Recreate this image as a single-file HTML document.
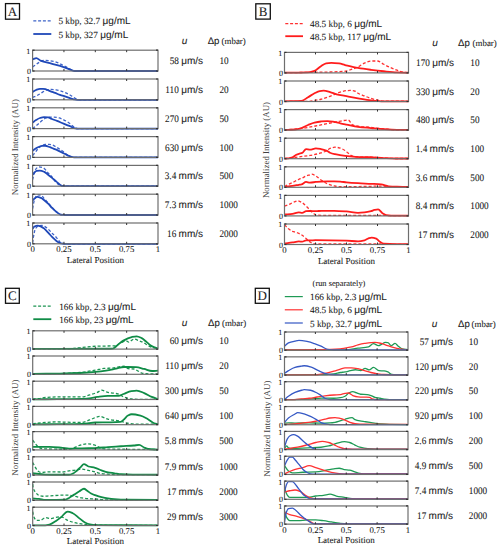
<!DOCTYPE html><html><head><meta charset="utf-8"><title>Figure</title><style>html,body{margin:0;padding:0;background:#fff;}svg{display:block;}</style></head><body>
<svg width="500" height="550" viewBox="0 0 500 550">
<rect width="500" height="550" fill="#fff"/>
<style>text{stroke:#1a1a1a;stroke-width:0.08px;text-rendering:geometricPrecision;}</style>
<path d="M32.60,67.05 C34.98,65.38 37.37,63.24 39.75,62.06 C41.13,61.37 42.51,60.39 43.89,60.39 C47.23,60.39 50.57,60.88 53.92,61.43 C57.68,62.06 61.44,64.70 65.20,66.42 C68.13,67.76 71.06,70.20 73.98,70.58 C75.65,70.81 77.33,71.00 79.00,71.00 C81.09,71.00 83.18,71.00 85.27,71.00 C109.51,71.00 133.76,71.00 158.00,71.00" fill="none" stroke="#3d63c8" stroke-width="1.3" stroke-linejoin="round" stroke-dasharray="3,2"/>
<path d="M32.60,59.35 C33.85,58.94 35.11,58.10 36.36,58.10 C37.74,58.10 39.12,60.05 40.50,60.60 C44.14,62.06 47.77,62.60 51.41,63.62 C55.46,64.75 59.52,65.72 63.57,67.05 C65.79,67.77 68.00,68.79 70.22,69.54 C71.77,70.07 73.31,71.00 74.86,71.00 C77.49,71.00 80.13,71.00 82.76,71.00 C107.84,71.00 132.92,71.00 158.00,71.00" fill="none" stroke="#1f48b8" stroke-width="1.8" stroke-linejoin="round"/>
<rect x="32.60" y="50.20" width="125.40" height="20.80" fill="none" stroke="#6e6e6e" stroke-width="1.2"/>
<line x1="63.95" y1="50.20" x2="63.95" y2="52.20" stroke="#333" stroke-width="1"/>
<line x1="63.95" y1="71.00" x2="63.95" y2="69.00" stroke="#333" stroke-width="1"/>
<line x1="95.30" y1="50.20" x2="95.30" y2="52.20" stroke="#333" stroke-width="1"/>
<line x1="95.30" y1="71.00" x2="95.30" y2="69.00" stroke="#333" stroke-width="1"/>
<line x1="126.65" y1="50.20" x2="126.65" y2="52.20" stroke="#333" stroke-width="1"/>
<line x1="126.65" y1="71.00" x2="126.65" y2="69.00" stroke="#333" stroke-width="1"/>
<line x1="32.60" y1="50.20" x2="34.60" y2="50.20" stroke="#333" stroke-width="1.2"/>
<line x1="32.60" y1="71.00" x2="34.60" y2="71.00" stroke="#333" stroke-width="1.2"/>
<line x1="158.00" y1="50.20" x2="156.00" y2="50.20" stroke="#333" stroke-width="1.2"/>
<line x1="158.00" y1="71.00" x2="156.00" y2="71.00" stroke="#333" stroke-width="1.2"/>
<text x="30.30" y="53.60" font-family="'Liberation Serif', serif" font-size="8" text-anchor="end" fill="#1a1a1a">1</text>
<text x="31.00" y="74.00" font-family="'Liberation Serif', serif" font-size="8" text-anchor="end" fill="#1a1a1a">0</text>
<text x="203.00" y="64.20" text-anchor="end" font-family="'Liberation Sans', sans-serif" font-size="10" fill="#1a1a1a">μm/s</text>
<text transform="translate(178.82,64.20) scale(1,1.1)" text-anchor="end" font-family="'Liberation Serif', serif" font-size="9.2" fill="#1a1a1a">58</text>
<text transform="translate(219.50,64.20) scale(1,1.1)" font-family="'Liberation Serif', serif" font-size="9.2" fill="#1a1a1a">10</text>
<path d="M32.60,97.51 C34.40,96.68 36.19,95.97 37.99,95.02 C39.66,94.13 41.34,92.84 43.01,91.90 C44.35,91.14 45.68,90.05 47.02,89.82 C48.36,89.58 49.70,89.40 51.03,89.40 C52.71,89.40 54.38,89.61 56.05,89.82 C57.35,89.97 58.64,90.30 59.94,90.65 C61.61,91.10 63.28,91.81 64.95,92.52 C66.63,93.23 68.30,94.09 69.97,95.02 C71.31,95.76 72.64,96.76 73.98,97.51 C75.32,98.27 76.66,99.40 77.99,99.59 C78.75,99.70 79.50,99.80 80.25,99.80 C81.92,99.80 83.60,99.80 85.27,99.80 C109.51,99.80 133.76,99.80 158.00,99.80" fill="none" stroke="#3d63c8" stroke-width="1.3" stroke-linejoin="round" stroke-dasharray="3,2"/>
<path d="M32.60,91.90 C33.73,91.27 34.86,90.48 35.99,90.02 C37.32,89.49 38.66,88.78 40.00,88.78 C41.00,88.78 42.01,88.78 43.01,88.78 C44.01,88.78 45.01,89.13 46.02,89.40 C47.36,89.76 48.69,90.54 50.03,91.06 C51.70,91.72 53.37,92.30 55.05,92.94 C56.68,93.55 58.31,94.23 59.94,94.81 C61.61,95.40 63.28,95.92 64.95,96.47 C66.63,97.03 68.30,97.60 69.97,98.14 C71.31,98.56 72.64,99.14 73.98,99.38 C75.03,99.58 76.07,99.80 77.12,99.80 C79.00,99.80 80.88,99.80 82.76,99.80 C107.84,99.80 132.92,99.80 158.00,99.80" fill="none" stroke="#1f48b8" stroke-width="1.8" stroke-linejoin="round"/>
<rect x="32.60" y="79.00" width="125.40" height="20.80" fill="none" stroke="#6e6e6e" stroke-width="1.2"/>
<line x1="63.95" y1="79.00" x2="63.95" y2="81.00" stroke="#333" stroke-width="1"/>
<line x1="63.95" y1="99.80" x2="63.95" y2="97.80" stroke="#333" stroke-width="1"/>
<line x1="95.30" y1="79.00" x2="95.30" y2="81.00" stroke="#333" stroke-width="1"/>
<line x1="95.30" y1="99.80" x2="95.30" y2="97.80" stroke="#333" stroke-width="1"/>
<line x1="126.65" y1="79.00" x2="126.65" y2="81.00" stroke="#333" stroke-width="1"/>
<line x1="126.65" y1="99.80" x2="126.65" y2="97.80" stroke="#333" stroke-width="1"/>
<line x1="32.60" y1="79.00" x2="34.60" y2="79.00" stroke="#333" stroke-width="1.2"/>
<line x1="32.60" y1="99.80" x2="34.60" y2="99.80" stroke="#333" stroke-width="1.2"/>
<line x1="158.00" y1="79.00" x2="156.00" y2="79.00" stroke="#333" stroke-width="1.2"/>
<line x1="158.00" y1="99.80" x2="156.00" y2="99.80" stroke="#333" stroke-width="1.2"/>
<text x="30.30" y="82.40" font-family="'Liberation Serif', serif" font-size="8" text-anchor="end" fill="#1a1a1a">1</text>
<text x="31.00" y="102.80" font-family="'Liberation Serif', serif" font-size="8" text-anchor="end" fill="#1a1a1a">0</text>
<text x="203.00" y="93.00" text-anchor="end" font-family="'Liberation Sans', sans-serif" font-size="10" fill="#1a1a1a">μm/s</text>
<text transform="translate(178.82,93.00) scale(1,1.1)" text-anchor="end" font-family="'Liberation Serif', serif" font-size="9.2" fill="#1a1a1a">110</text>
<text transform="translate(219.50,93.00) scale(1,1.1)" font-family="'Liberation Serif', serif" font-size="9.2" fill="#1a1a1a">20</text>
<path d="M32.60,128.60 C34.06,127.42 35.53,126.30 36.99,125.06 C38.33,123.94 39.66,122.63 41.00,121.53 C42.34,120.42 43.68,119.00 45.01,118.41 C46.35,117.81 47.69,117.16 49.03,117.16 C50.70,117.16 52.37,117.16 54.04,117.16 C55.72,117.16 57.39,117.60 59.06,117.99 C60.73,118.39 62.40,119.26 64.08,120.07 C65.75,120.88 67.42,121.82 69.09,122.98 C70.09,123.68 71.10,124.68 72.10,125.48 C73.10,126.28 74.11,127.32 75.11,127.77 C75.99,128.16 76.87,128.60 77.74,128.60 C79.42,128.60 81.09,128.60 82.76,128.60 C107.84,128.60 132.92,128.60 158.00,128.60" fill="none" stroke="#3d63c8" stroke-width="1.3" stroke-linejoin="round" stroke-dasharray="3,2"/>
<path d="M32.60,122.57 C33.73,121.74 34.86,120.76 35.99,120.07 C37.32,119.25 38.66,118.39 40.00,117.99 C41.34,117.60 42.67,117.16 44.01,117.16 C45.35,117.16 46.69,117.24 48.02,117.37 C49.36,117.49 50.70,118.51 52.04,119.03 C53.71,119.69 55.38,120.25 57.05,120.90 C58.73,121.56 60.40,122.29 62.07,122.98 C63.74,123.68 65.41,124.37 67.09,125.06 C68.42,125.62 69.76,126.12 71.10,126.73 C72.06,127.17 73.02,127.95 73.98,128.18 C74.82,128.39 75.65,128.60 76.49,128.60 C78.58,128.60 80.67,128.60 82.76,128.60 C107.84,128.60 132.92,128.60 158.00,128.60" fill="none" stroke="#1f48b8" stroke-width="1.8" stroke-linejoin="round"/>
<rect x="32.60" y="107.80" width="125.40" height="20.80" fill="none" stroke="#6e6e6e" stroke-width="1.2"/>
<line x1="63.95" y1="107.80" x2="63.95" y2="109.80" stroke="#333" stroke-width="1"/>
<line x1="63.95" y1="128.60" x2="63.95" y2="126.60" stroke="#333" stroke-width="1"/>
<line x1="95.30" y1="107.80" x2="95.30" y2="109.80" stroke="#333" stroke-width="1"/>
<line x1="95.30" y1="128.60" x2="95.30" y2="126.60" stroke="#333" stroke-width="1"/>
<line x1="126.65" y1="107.80" x2="126.65" y2="109.80" stroke="#333" stroke-width="1"/>
<line x1="126.65" y1="128.60" x2="126.65" y2="126.60" stroke="#333" stroke-width="1"/>
<line x1="32.60" y1="107.80" x2="34.60" y2="107.80" stroke="#333" stroke-width="1.2"/>
<line x1="32.60" y1="128.60" x2="34.60" y2="128.60" stroke="#333" stroke-width="1.2"/>
<line x1="158.00" y1="107.80" x2="156.00" y2="107.80" stroke="#333" stroke-width="1.2"/>
<line x1="158.00" y1="128.60" x2="156.00" y2="128.60" stroke="#333" stroke-width="1.2"/>
<text x="30.30" y="111.20" font-family="'Liberation Serif', serif" font-size="8" text-anchor="end" fill="#1a1a1a">1</text>
<text x="31.00" y="131.60" font-family="'Liberation Serif', serif" font-size="8" text-anchor="end" fill="#1a1a1a">0</text>
<text x="203.00" y="121.80" text-anchor="end" font-family="'Liberation Sans', sans-serif" font-size="10" fill="#1a1a1a">μm/s</text>
<text transform="translate(178.82,121.80) scale(1,1.1)" text-anchor="end" font-family="'Liberation Serif', serif" font-size="9.2" fill="#1a1a1a">270</text>
<text transform="translate(219.50,121.80) scale(1,1.1)" font-family="'Liberation Serif', serif" font-size="9.2" fill="#1a1a1a">50</text>
<path d="M32.60,155.53 C33.35,154.63 34.10,153.75 34.86,152.82 C35.90,151.54 36.95,149.94 37.99,148.87 C39.12,147.72 40.25,146.62 41.38,145.96 C42.63,145.22 43.89,144.30 45.14,144.30 C46.39,144.30 47.65,144.30 48.90,144.30 C50.16,144.30 51.41,144.73 52.66,145.13 C53.92,145.52 55.17,146.48 56.43,147.21 C57.68,147.93 58.93,148.70 60.19,149.50 C61.44,150.29 62.70,151.06 63.95,151.99 C65.41,153.08 66.88,154.87 68.34,155.74 C69.38,156.35 70.43,157.05 71.47,157.19 C72.31,157.31 73.15,157.40 73.98,157.40 C76.91,157.40 79.83,157.40 82.76,157.40 C107.84,157.40 132.92,157.40 158.00,157.40" fill="none" stroke="#3d63c8" stroke-width="1.3" stroke-linejoin="round" stroke-dasharray="3,2"/>
<path d="M32.60,150.74 C33.35,150.19 34.10,149.58 34.86,149.08 C35.90,148.39 36.95,147.64 37.99,147.21 C39.33,146.65 40.67,146.10 42.01,145.96 C43.05,145.85 44.09,145.75 45.14,145.75 C46.77,145.75 48.40,146.64 50.03,147.21 C51.37,147.67 52.71,148.33 54.04,148.87 C55.26,149.37 56.47,149.80 57.68,150.33 C59.10,150.95 60.52,151.69 61.94,152.41 C63.28,153.08 64.62,153.82 65.96,154.49 C66.96,154.99 67.96,155.55 68.97,155.94 C70.22,156.44 71.47,157.03 72.73,157.19 C73.56,157.30 74.40,157.40 75.24,157.40 C77.74,157.40 80.25,157.40 82.76,157.40 C107.84,157.40 132.92,157.40 158.00,157.40" fill="none" stroke="#1f48b8" stroke-width="1.8" stroke-linejoin="round"/>
<rect x="32.60" y="136.60" width="125.40" height="20.80" fill="none" stroke="#6e6e6e" stroke-width="1.2"/>
<line x1="63.95" y1="136.60" x2="63.95" y2="138.60" stroke="#333" stroke-width="1"/>
<line x1="63.95" y1="157.40" x2="63.95" y2="155.40" stroke="#333" stroke-width="1"/>
<line x1="95.30" y1="136.60" x2="95.30" y2="138.60" stroke="#333" stroke-width="1"/>
<line x1="95.30" y1="157.40" x2="95.30" y2="155.40" stroke="#333" stroke-width="1"/>
<line x1="126.65" y1="136.60" x2="126.65" y2="138.60" stroke="#333" stroke-width="1"/>
<line x1="126.65" y1="157.40" x2="126.65" y2="155.40" stroke="#333" stroke-width="1"/>
<line x1="32.60" y1="136.60" x2="34.60" y2="136.60" stroke="#333" stroke-width="1.2"/>
<line x1="32.60" y1="157.40" x2="34.60" y2="157.40" stroke="#333" stroke-width="1.2"/>
<line x1="158.00" y1="136.60" x2="156.00" y2="136.60" stroke="#333" stroke-width="1.2"/>
<line x1="158.00" y1="157.40" x2="156.00" y2="157.40" stroke="#333" stroke-width="1.2"/>
<text x="30.30" y="140.00" font-family="'Liberation Serif', serif" font-size="8" text-anchor="end" fill="#1a1a1a">1</text>
<text x="31.00" y="160.40" font-family="'Liberation Serif', serif" font-size="8" text-anchor="end" fill="#1a1a1a">0</text>
<text x="203.00" y="150.60" text-anchor="end" font-family="'Liberation Sans', sans-serif" font-size="10" fill="#1a1a1a">μm/s</text>
<text transform="translate(178.82,150.60) scale(1,1.1)" text-anchor="end" font-family="'Liberation Serif', serif" font-size="9.2" fill="#1a1a1a">630</text>
<text transform="translate(219.50,150.60) scale(1,1.1)" font-family="'Liberation Serif', serif" font-size="9.2" fill="#1a1a1a">100</text>
<path d="M32.60,179.54 C33.56,176.22 34.52,170.83 35.48,169.56 C36.61,168.07 37.74,166.86 38.87,166.86 C40.33,166.86 41.80,167.34 43.26,167.90 C45.06,168.58 46.85,171.70 48.65,173.51 C49.78,174.65 50.91,175.56 52.04,176.84 C53.50,178.50 54.96,181.46 56.43,182.87 C57.14,183.56 57.85,184.15 58.56,184.54 C59.94,185.29 61.32,186.20 62.70,186.20 C64.79,186.20 66.88,186.20 68.97,186.20 C98.64,186.20 128.32,186.20 158.00,186.20" fill="none" stroke="#3d63c8" stroke-width="1.3" stroke-linejoin="round" stroke-dasharray="3,2"/>
<path d="M32.60,174.55 C33.94,173.30 35.28,170.96 36.61,170.81 C37.70,170.68 38.79,170.60 39.87,170.60 C41.34,170.60 42.80,171.24 44.26,171.85 C45.73,172.45 47.19,174.04 48.65,175.18 C49.78,176.05 50.91,176.95 52.04,177.88 C53.50,179.09 54.96,180.45 56.43,181.62 C58.27,183.10 60.10,185.49 61.94,185.78 C63.45,186.02 64.95,186.20 66.46,186.20 C68.55,186.20 70.64,186.20 72.73,186.20 C101.15,186.20 129.58,186.20 158.00,186.20" fill="none" stroke="#1f48b8" stroke-width="1.8" stroke-linejoin="round"/>
<rect x="32.60" y="165.40" width="125.40" height="20.80" fill="none" stroke="#6e6e6e" stroke-width="1.2"/>
<line x1="63.95" y1="165.40" x2="63.95" y2="167.40" stroke="#333" stroke-width="1"/>
<line x1="63.95" y1="186.20" x2="63.95" y2="184.20" stroke="#333" stroke-width="1"/>
<line x1="95.30" y1="165.40" x2="95.30" y2="167.40" stroke="#333" stroke-width="1"/>
<line x1="95.30" y1="186.20" x2="95.30" y2="184.20" stroke="#333" stroke-width="1"/>
<line x1="126.65" y1="165.40" x2="126.65" y2="167.40" stroke="#333" stroke-width="1"/>
<line x1="126.65" y1="186.20" x2="126.65" y2="184.20" stroke="#333" stroke-width="1"/>
<line x1="32.60" y1="165.40" x2="34.60" y2="165.40" stroke="#333" stroke-width="1.2"/>
<line x1="32.60" y1="186.20" x2="34.60" y2="186.20" stroke="#333" stroke-width="1.2"/>
<line x1="158.00" y1="165.40" x2="156.00" y2="165.40" stroke="#333" stroke-width="1.2"/>
<line x1="158.00" y1="186.20" x2="156.00" y2="186.20" stroke="#333" stroke-width="1.2"/>
<text x="30.30" y="168.80" font-family="'Liberation Serif', serif" font-size="8" text-anchor="end" fill="#1a1a1a">1</text>
<text x="31.00" y="189.20" font-family="'Liberation Serif', serif" font-size="8" text-anchor="end" fill="#1a1a1a">0</text>
<text x="203.00" y="179.40" text-anchor="end" font-family="'Liberation Sans', sans-serif" font-size="10" fill="#1a1a1a">mm/s</text>
<text transform="translate(176.25,179.40) scale(1,1.1)" text-anchor="end" font-family="'Liberation Serif', serif" font-size="9.2" fill="#1a1a1a">3.4</text>
<text transform="translate(219.50,179.40) scale(1,1.1)" font-family="'Liberation Serif', serif" font-size="9.2" fill="#1a1a1a">500</text>
<path d="M32.60,208.55 C33.23,205.64 33.85,201.37 34.48,199.82 C35.53,197.23 36.57,194.82 37.62,194.82 C38.74,194.82 39.87,194.99 41.00,195.24 C42.09,195.48 43.18,197.40 44.26,198.57 C45.73,200.14 47.19,201.92 48.65,203.56 C49.78,204.82 50.91,206.09 52.04,207.30 C53.50,208.88 54.96,210.69 56.43,211.88 C57.89,213.07 59.35,214.66 60.82,214.79 C62.28,214.92 63.74,215.00 65.20,215.00 C67.29,215.00 69.38,215.00 71.47,215.00 C100.32,215.00 129.16,215.00 158.00,215.00" fill="none" stroke="#3d63c8" stroke-width="1.3" stroke-linejoin="round" stroke-dasharray="3,2"/>
<path d="M32.60,200.23 C34.15,199.12 35.69,196.90 37.24,196.90 C38.49,196.90 39.75,197.44 41.00,197.94 C42.09,198.38 43.18,199.38 44.26,200.23 C45.73,201.38 47.19,202.73 48.65,204.18 C49.78,205.31 50.91,206.80 52.04,207.93 C53.50,209.39 54.96,210.81 56.43,211.88 C57.89,212.95 59.35,214.34 60.82,214.58 C62.28,214.82 63.74,215.00 65.20,215.00 C67.29,215.00 69.38,215.00 71.47,215.00 C100.32,215.00 129.16,215.00 158.00,215.00" fill="none" stroke="#1f48b8" stroke-width="1.8" stroke-linejoin="round"/>
<rect x="32.60" y="194.20" width="125.40" height="20.80" fill="none" stroke="#6e6e6e" stroke-width="1.2"/>
<line x1="63.95" y1="194.20" x2="63.95" y2="196.20" stroke="#333" stroke-width="1"/>
<line x1="63.95" y1="215.00" x2="63.95" y2="213.00" stroke="#333" stroke-width="1"/>
<line x1="95.30" y1="194.20" x2="95.30" y2="196.20" stroke="#333" stroke-width="1"/>
<line x1="95.30" y1="215.00" x2="95.30" y2="213.00" stroke="#333" stroke-width="1"/>
<line x1="126.65" y1="194.20" x2="126.65" y2="196.20" stroke="#333" stroke-width="1"/>
<line x1="126.65" y1="215.00" x2="126.65" y2="213.00" stroke="#333" stroke-width="1"/>
<line x1="32.60" y1="194.20" x2="34.60" y2="194.20" stroke="#333" stroke-width="1.2"/>
<line x1="32.60" y1="215.00" x2="34.60" y2="215.00" stroke="#333" stroke-width="1.2"/>
<line x1="158.00" y1="194.20" x2="156.00" y2="194.20" stroke="#333" stroke-width="1.2"/>
<line x1="158.00" y1="215.00" x2="156.00" y2="215.00" stroke="#333" stroke-width="1.2"/>
<text x="30.30" y="197.60" font-family="'Liberation Serif', serif" font-size="8" text-anchor="end" fill="#1a1a1a">1</text>
<text x="31.00" y="218.00" font-family="'Liberation Serif', serif" font-size="8" text-anchor="end" fill="#1a1a1a">0</text>
<text x="203.00" y="208.20" text-anchor="end" font-family="'Liberation Sans', sans-serif" font-size="10" fill="#1a1a1a">mm/s</text>
<text transform="translate(176.25,208.20) scale(1,1.1)" text-anchor="end" font-family="'Liberation Serif', serif" font-size="9.2" fill="#1a1a1a">7.3</text>
<text transform="translate(219.50,208.20) scale(1,1.1)" font-family="'Liberation Serif', serif" font-size="9.2" fill="#1a1a1a">1000</text>
<path d="M32.60,242.97 C32.85,241.17 33.10,238.95 33.35,237.56 C34.06,233.63 34.77,229.62 35.48,228.62 C36.61,227.02 37.74,226.16 38.87,225.91 C39.96,225.67 41.04,225.50 42.13,225.50 C43.55,225.50 44.97,226.66 46.39,227.58 C48.28,228.79 50.16,231.32 52.04,233.19 C53.50,234.65 54.96,235.91 56.43,237.56 C57.14,238.36 57.85,239.39 58.56,240.26 C59.31,241.19 60.06,242.57 60.82,242.97 C61.65,243.41 62.49,243.80 63.32,243.80 C65.62,243.80 67.92,243.80 70.22,243.80 C99.48,243.80 128.74,243.80 158.00,243.80" fill="none" stroke="#3d63c8" stroke-width="1.3" stroke-linejoin="round" stroke-dasharray="3,2"/>
<path d="M32.60,228.62 C33.23,227.92 33.85,226.85 34.48,226.54 C35.53,226.02 36.57,225.60 37.62,225.60 C38.74,225.60 39.87,226.10 41.00,226.54 C42.09,226.96 43.18,227.77 44.26,228.62 C45.73,229.76 47.19,231.62 48.65,233.19 C49.78,234.40 50.91,235.81 52.04,236.94 C53.50,238.39 54.96,239.87 56.43,240.89 C57.89,241.91 59.35,243.15 60.82,243.38 C62.28,243.62 63.74,243.80 65.20,243.80 C67.29,243.80 69.38,243.80 71.47,243.80 C100.32,243.80 129.16,243.80 158.00,243.80" fill="none" stroke="#1f48b8" stroke-width="1.8" stroke-linejoin="round"/>
<rect x="32.60" y="223.00" width="125.40" height="20.80" fill="none" stroke="#6e6e6e" stroke-width="1.2"/>
<line x1="63.95" y1="223.00" x2="63.95" y2="225.00" stroke="#333" stroke-width="1"/>
<line x1="63.95" y1="243.80" x2="63.95" y2="241.80" stroke="#333" stroke-width="1"/>
<line x1="95.30" y1="223.00" x2="95.30" y2="225.00" stroke="#333" stroke-width="1"/>
<line x1="95.30" y1="243.80" x2="95.30" y2="241.80" stroke="#333" stroke-width="1"/>
<line x1="126.65" y1="223.00" x2="126.65" y2="225.00" stroke="#333" stroke-width="1"/>
<line x1="126.65" y1="243.80" x2="126.65" y2="241.80" stroke="#333" stroke-width="1"/>
<line x1="32.60" y1="223.00" x2="34.60" y2="223.00" stroke="#333" stroke-width="1.2"/>
<line x1="32.60" y1="243.80" x2="34.60" y2="243.80" stroke="#333" stroke-width="1.2"/>
<line x1="158.00" y1="223.00" x2="156.00" y2="223.00" stroke="#333" stroke-width="1.2"/>
<line x1="158.00" y1="243.80" x2="156.00" y2="243.80" stroke="#333" stroke-width="1.2"/>
<text x="30.30" y="226.40" font-family="'Liberation Serif', serif" font-size="8" text-anchor="end" fill="#1a1a1a">1</text>
<text x="31.00" y="246.80" font-family="'Liberation Serif', serif" font-size="8" text-anchor="end" fill="#1a1a1a">0</text>
<text x="203.00" y="237.00" text-anchor="end" font-family="'Liberation Sans', sans-serif" font-size="10" fill="#1a1a1a">mm/s</text>
<text transform="translate(176.25,237.00) scale(1,1.1)" text-anchor="end" font-family="'Liberation Serif', serif" font-size="9.2" fill="#1a1a1a">16</text>
<text transform="translate(219.50,237.00) scale(1,1.1)" font-family="'Liberation Serif', serif" font-size="9.2" fill="#1a1a1a">2000</text>
<text x="32.60" y="252.20" font-family="'Liberation Serif', serif" font-size="8.8" text-anchor="middle" fill="#1a1a1a">0</text>
<text x="63.95" y="252.20" font-family="'Liberation Serif', serif" font-size="8.8" text-anchor="middle" fill="#1a1a1a">0.25</text>
<text x="95.30" y="252.20" font-family="'Liberation Serif', serif" font-size="8.8" text-anchor="middle" fill="#1a1a1a">0.5</text>
<text x="126.65" y="252.20" font-family="'Liberation Serif', serif" font-size="8.8" text-anchor="middle" fill="#1a1a1a">0.75</text>
<text x="158.00" y="252.20" font-family="'Liberation Serif', serif" font-size="8.8" text-anchor="middle" fill="#1a1a1a">1</text>
<text x="95.30" y="263.20" font-family="'Liberation Serif', serif" font-size="9" text-anchor="middle" fill="#1a1a1a">Lateral Position</text>
<text transform="translate(18.30,147.20) rotate(-90)" x="0" y="0" font-family="'Liberation Serif', serif" font-size="8.9" text-anchor="middle" fill="#404040" style="stroke:none">Normalized Intensity (AU)</text>
<text x="184.50" y="44.20" font-family="'Liberation Sans', sans-serif" font-style="italic" font-size="10" text-anchor="middle" fill="#1a1a1a">u</text>
<text x="207.70" y="44.20" font-family="'Liberation Sans', sans-serif" font-size="9.6" fill="#1a1a1a">Δp</text>
<text x="221.60" y="44.20" font-family="'Liberation Serif', serif" font-size="8.9" fill="#1a1a1a">(mbar)</text>
<rect x="5.50" y="3.60" width="14.00" height="15.60" fill="none" stroke="#111" stroke-width="1.3"/>
<text x="12.50" y="16.10" font-family="'Liberation Serif', serif" font-size="13" text-anchor="middle" fill="#222">A</text>
<line x1="33.3" y1="20.8" x2="51" y2="20.8" stroke="#3d63c8" stroke-width="1.3" stroke-dasharray="3,1.8"/>
<line x1="33.3" y1="34" x2="51.3" y2="34" stroke="#1f48b8" stroke-width="1.8"/>
<text x="58.40" y="24.30" fill="#1a1a1a"><tspan font-family="'Liberation Serif', serif" font-size="9.3">5 kbp, 32.7 </tspan><tspan font-family="'Liberation Sans', sans-serif" font-size="10">μg/mL</tspan></text>
<text x="58.40" y="37.50" fill="#1a1a1a"><tspan font-family="'Liberation Serif', serif" font-size="9.3">5 kbp, 327 </tspan><tspan font-family="'Liberation Sans', sans-serif" font-size="10">μg/mL</tspan></text>
<path d="M284.50,72.70 C294.42,72.56 304.34,72.48 314.26,72.29 C324.51,72.09 334.76,72.00 345.01,71.26 C347.16,71.10 349.31,70.11 351.46,69.42 C353.65,68.70 355.84,67.97 358.03,66.96 C360.18,65.96 362.33,63.95 364.48,63.06 C366.67,62.16 368.86,61.01 371.05,61.01 C373.20,61.01 375.35,61.01 377.50,61.01 C379.57,61.01 381.63,63.25 383.70,64.29 C385.97,65.44 388.25,66.56 390.52,67.57 C392.67,68.52 394.82,69.47 396.97,70.23 C399.16,71.01 401.35,71.90 403.54,72.29 C405.19,72.57 406.85,72.70 408.50,72.90" fill="none" stroke="#ff3030" stroke-width="1.3" stroke-linejoin="round" stroke-dasharray="3,2"/>
<path d="M284.50,72.70 C293.01,72.49 301.53,72.55 310.04,72.08 C311.53,72.00 313.02,71.43 314.51,70.85 C316.66,70.01 318.81,67.48 320.96,66.14 C322.69,65.05 324.43,63.50 326.16,63.27 C327.90,63.03 329.64,62.86 331.37,62.86 C333.93,62.86 336.50,63.15 339.06,63.47 C341.04,63.72 343.03,64.52 345.01,65.01 C349.35,66.07 353.69,67.22 358.03,67.98 C362.37,68.74 366.71,69.28 371.05,69.83 C375.27,70.36 379.48,70.85 383.70,71.26 C388.12,71.69 392.55,72.21 396.97,72.39 C400.81,72.54 404.66,72.59 408.50,72.70" fill="none" stroke="#ff1c1c" stroke-width="1.8" stroke-linejoin="round"/>
<rect x="284.50" y="52.40" width="124.00" height="20.50" fill="none" stroke="#6e6e6e" stroke-width="1.2"/>
<line x1="315.50" y1="52.40" x2="315.50" y2="54.40" stroke="#333" stroke-width="1"/>
<line x1="315.50" y1="72.90" x2="315.50" y2="70.90" stroke="#333" stroke-width="1"/>
<line x1="346.50" y1="52.40" x2="346.50" y2="54.40" stroke="#333" stroke-width="1"/>
<line x1="346.50" y1="72.90" x2="346.50" y2="70.90" stroke="#333" stroke-width="1"/>
<line x1="377.50" y1="52.40" x2="377.50" y2="54.40" stroke="#333" stroke-width="1"/>
<line x1="377.50" y1="72.90" x2="377.50" y2="70.90" stroke="#333" stroke-width="1"/>
<line x1="284.50" y1="52.40" x2="286.50" y2="52.40" stroke="#333" stroke-width="1.2"/>
<line x1="284.50" y1="72.90" x2="286.50" y2="72.90" stroke="#333" stroke-width="1.2"/>
<line x1="408.50" y1="52.40" x2="406.50" y2="52.40" stroke="#333" stroke-width="1.2"/>
<line x1="408.50" y1="72.90" x2="406.50" y2="72.90" stroke="#333" stroke-width="1.2"/>
<text x="282.20" y="55.80" font-family="'Liberation Serif', serif" font-size="8" text-anchor="end" fill="#1a1a1a">1</text>
<text x="282.90" y="75.90" font-family="'Liberation Serif', serif" font-size="8" text-anchor="end" fill="#1a1a1a">0</text>
<text x="454.00" y="66.25" text-anchor="end" font-family="'Liberation Sans', sans-serif" font-size="10" fill="#1a1a1a">μm/s</text>
<text transform="translate(429.82,66.25) scale(1,1.1)" text-anchor="end" font-family="'Liberation Serif', serif" font-size="9.2" fill="#1a1a1a">170</text>
<text transform="translate(470.30,66.25) scale(1,1.1)" font-family="'Liberation Serif', serif" font-size="9.2" fill="#1a1a1a">10</text>
<path d="M284.50,101.30 C292.77,101.30 301.03,101.30 309.30,101.30 C311.04,101.30 312.77,100.77 314.51,100.47 C316.66,100.11 318.81,99.75 320.96,99.25 C323.15,98.73 325.34,97.97 327.53,97.19 C329.72,96.42 331.91,95.41 334.10,94.53 C336.17,93.70 338.23,92.67 340.30,92.07 C342.37,91.47 344.43,90.81 346.50,90.64 C347.74,90.53 348.98,90.43 350.22,90.43 C351.87,90.43 353.53,90.78 355.18,91.25 C356.13,91.52 357.08,92.78 358.03,93.30 C360.18,94.47 362.33,95.12 364.48,95.97 C366.67,96.83 368.86,97.76 371.05,98.42 C373.20,99.08 375.35,99.63 377.50,100.06 C379.57,100.48 381.63,101.05 383.70,101.09 C391.97,101.25 400.23,101.23 408.50,101.30" fill="none" stroke="#ff3030" stroke-width="1.3" stroke-linejoin="round" stroke-dasharray="3,2"/>
<path d="M284.50,101.30 C290.16,101.16 295.83,101.19 301.49,100.89 C303.68,100.77 305.87,98.47 308.06,97.19 C310.21,95.94 312.36,94.38 314.51,93.30 C316.24,92.43 317.98,91.33 319.72,91.05 C321.00,90.83 322.28,90.64 323.56,90.64 C325.75,90.64 327.94,91.48 330.13,92.07 C332.28,92.65 334.43,93.78 336.58,94.33 C339.39,95.04 342.20,95.43 345.01,95.97 C349.35,96.80 353.69,97.68 358.03,98.42 C362.37,99.17 366.71,100.08 371.05,100.47 C375.27,100.86 379.48,101.30 383.70,101.30 C391.97,101.30 400.23,101.30 408.50,101.30" fill="none" stroke="#ff1c1c" stroke-width="1.8" stroke-linejoin="round"/>
<rect x="284.50" y="81.00" width="124.00" height="20.50" fill="none" stroke="#6e6e6e" stroke-width="1.2"/>
<line x1="315.50" y1="81.00" x2="315.50" y2="83.00" stroke="#333" stroke-width="1"/>
<line x1="315.50" y1="101.50" x2="315.50" y2="99.50" stroke="#333" stroke-width="1"/>
<line x1="346.50" y1="81.00" x2="346.50" y2="83.00" stroke="#333" stroke-width="1"/>
<line x1="346.50" y1="101.50" x2="346.50" y2="99.50" stroke="#333" stroke-width="1"/>
<line x1="377.50" y1="81.00" x2="377.50" y2="83.00" stroke="#333" stroke-width="1"/>
<line x1="377.50" y1="101.50" x2="377.50" y2="99.50" stroke="#333" stroke-width="1"/>
<line x1="284.50" y1="81.00" x2="286.50" y2="81.00" stroke="#333" stroke-width="1.2"/>
<line x1="284.50" y1="101.50" x2="286.50" y2="101.50" stroke="#333" stroke-width="1.2"/>
<line x1="408.50" y1="81.00" x2="406.50" y2="81.00" stroke="#333" stroke-width="1.2"/>
<line x1="408.50" y1="101.50" x2="406.50" y2="101.50" stroke="#333" stroke-width="1.2"/>
<text x="282.20" y="84.40" font-family="'Liberation Serif', serif" font-size="8" text-anchor="end" fill="#1a1a1a">1</text>
<text x="282.90" y="104.50" font-family="'Liberation Serif', serif" font-size="8" text-anchor="end" fill="#1a1a1a">0</text>
<text x="454.00" y="94.85" text-anchor="end" font-family="'Liberation Sans', sans-serif" font-size="10" fill="#1a1a1a">μm/s</text>
<text transform="translate(429.82,94.85) scale(1,1.1)" text-anchor="end" font-family="'Liberation Serif', serif" font-size="9.2" fill="#1a1a1a">330</text>
<text transform="translate(470.30,94.85) scale(1,1.1)" font-family="'Liberation Serif', serif" font-size="9.2" fill="#1a1a1a">20</text>
<path d="M284.50,129.89 C290.16,129.42 295.83,129.11 301.49,128.46 C303.68,128.21 305.87,127.81 308.06,127.43 C310.21,127.07 312.36,126.61 314.51,126.20 C316.66,125.80 318.81,125.41 320.96,124.97 C323.15,124.53 325.34,123.98 327.53,123.54 C329.72,123.10 331.91,122.73 334.10,122.31 C336.17,121.91 338.23,121.41 340.30,121.08 C342.95,120.66 345.59,120.05 348.24,120.05 C349.72,120.05 351.21,124.40 352.70,124.97 C354.48,125.67 356.25,125.95 358.03,126.20 C362.37,126.82 366.71,126.99 371.05,127.43 C375.27,127.87 379.48,128.47 383.70,128.87 C387.83,129.27 391.97,129.89 396.10,129.89 C400.23,129.89 404.37,129.89 408.50,129.89" fill="none" stroke="#ff3030" stroke-width="1.3" stroke-linejoin="round" stroke-dasharray="3,2"/>
<path d="M284.50,129.89 C288.01,129.76 291.53,129.73 295.04,129.48 C297.19,129.33 299.34,128.70 301.49,128.05 C303.68,127.39 305.87,125.90 308.06,124.97 C310.21,124.07 312.36,123.00 314.51,122.52 C316.66,122.03 318.81,121.68 320.96,121.49 C323.15,121.29 325.34,121.08 327.53,121.08 C329.72,121.08 331.91,121.54 334.10,121.90 C336.17,122.24 338.23,122.89 340.30,123.33 C342.37,123.78 344.43,124.16 346.50,124.56 C350.34,125.32 354.19,126.33 358.03,126.82 C362.37,127.38 366.71,127.65 371.05,128.05 C375.27,128.44 379.48,128.92 383.70,129.18 C388.12,129.45 392.55,129.73 396.97,129.79 C400.81,129.85 404.66,129.86 408.50,129.89" fill="none" stroke="#ff1c1c" stroke-width="1.8" stroke-linejoin="round"/>
<rect x="284.50" y="109.60" width="124.00" height="20.50" fill="none" stroke="#6e6e6e" stroke-width="1.2"/>
<line x1="315.50" y1="109.60" x2="315.50" y2="111.60" stroke="#333" stroke-width="1"/>
<line x1="315.50" y1="130.10" x2="315.50" y2="128.10" stroke="#333" stroke-width="1"/>
<line x1="346.50" y1="109.60" x2="346.50" y2="111.60" stroke="#333" stroke-width="1"/>
<line x1="346.50" y1="130.10" x2="346.50" y2="128.10" stroke="#333" stroke-width="1"/>
<line x1="377.50" y1="109.60" x2="377.50" y2="111.60" stroke="#333" stroke-width="1"/>
<line x1="377.50" y1="130.10" x2="377.50" y2="128.10" stroke="#333" stroke-width="1"/>
<line x1="284.50" y1="109.60" x2="286.50" y2="109.60" stroke="#333" stroke-width="1.2"/>
<line x1="284.50" y1="130.10" x2="286.50" y2="130.10" stroke="#333" stroke-width="1.2"/>
<line x1="408.50" y1="109.60" x2="406.50" y2="109.60" stroke="#333" stroke-width="1.2"/>
<line x1="408.50" y1="130.10" x2="406.50" y2="130.10" stroke="#333" stroke-width="1.2"/>
<text x="282.20" y="113.00" font-family="'Liberation Serif', serif" font-size="8" text-anchor="end" fill="#1a1a1a">1</text>
<text x="282.90" y="133.10" font-family="'Liberation Serif', serif" font-size="8" text-anchor="end" fill="#1a1a1a">0</text>
<text x="454.00" y="123.45" text-anchor="end" font-family="'Liberation Sans', sans-serif" font-size="10" fill="#1a1a1a">μm/s</text>
<text transform="translate(429.82,123.45) scale(1,1.1)" text-anchor="end" font-family="'Liberation Serif', serif" font-size="9.2" fill="#1a1a1a">480</text>
<text transform="translate(470.30,123.45) scale(1,1.1)" font-family="'Liberation Serif', serif" font-size="9.2" fill="#1a1a1a">50</text>
<path d="M284.50,158.70 C287.15,158.50 289.79,158.38 292.44,158.09 C294.59,157.84 296.73,157.19 298.88,156.86 C302.56,156.28 306.24,156.02 309.92,155.42 C313.60,154.82 317.28,154.05 320.96,152.96 C322.98,152.36 325.01,151.56 327.03,150.50 C328.02,149.98 329.02,148.83 330.01,148.45 C331.66,147.82 333.31,147.22 334.97,147.22 C336.66,147.22 338.36,147.63 340.05,148.04 C341.71,148.44 343.36,149.45 345.01,150.50 C346.00,151.13 347.00,152.14 347.99,152.96 C348.98,153.78 349.97,154.94 350.96,155.42 C351.96,155.90 352.95,156.28 353.94,156.45 C355.97,156.78 357.99,156.99 360.02,157.06 C363.69,157.18 367.37,157.16 371.05,157.27 C375.27,157.39 379.48,157.90 383.70,158.09 C387.83,158.27 391.97,158.50 396.10,158.50 C400.23,158.50 404.37,158.50 408.50,158.50" fill="none" stroke="#ff3030" stroke-width="1.3" stroke-linejoin="round" stroke-dasharray="3,2"/>
<path d="M284.50,158.50 C285.82,158.43 287.15,158.40 288.47,158.29 C289.79,158.18 291.11,157.89 292.44,157.47 C293.72,157.06 295.00,155.44 296.28,154.81 C297.15,154.38 298.02,154.04 298.88,153.78 C300.00,153.44 301.12,153.39 302.23,152.96 C303.51,152.46 304.79,149.07 306.08,149.07 C307.36,149.07 308.64,149.68 309.92,149.68 C311.90,149.68 313.89,148.45 315.87,148.45 C317.57,148.45 319.26,148.78 320.96,149.07 C322.98,149.41 325.01,150.05 327.03,150.91 C328.02,151.33 329.02,152.35 330.01,152.76 C331.66,153.43 333.31,153.80 334.97,154.19 C336.66,154.59 338.36,154.95 340.05,155.22 C343.36,155.74 346.67,156.17 349.97,156.45 C353.32,156.72 356.67,156.96 360.02,157.06 C363.36,157.16 366.71,157.17 370.06,157.27 C374.61,157.40 379.15,157.89 383.70,158.09 C387.83,158.26 391.97,158.50 396.10,158.50 C400.23,158.50 404.37,158.50 408.50,158.50" fill="none" stroke="#ff1c1c" stroke-width="1.8" stroke-linejoin="round"/>
<rect x="284.50" y="138.20" width="124.00" height="20.50" fill="none" stroke="#6e6e6e" stroke-width="1.2"/>
<line x1="315.50" y1="138.20" x2="315.50" y2="140.20" stroke="#333" stroke-width="1"/>
<line x1="315.50" y1="158.70" x2="315.50" y2="156.70" stroke="#333" stroke-width="1"/>
<line x1="346.50" y1="138.20" x2="346.50" y2="140.20" stroke="#333" stroke-width="1"/>
<line x1="346.50" y1="158.70" x2="346.50" y2="156.70" stroke="#333" stroke-width="1"/>
<line x1="377.50" y1="138.20" x2="377.50" y2="140.20" stroke="#333" stroke-width="1"/>
<line x1="377.50" y1="158.70" x2="377.50" y2="156.70" stroke="#333" stroke-width="1"/>
<line x1="284.50" y1="138.20" x2="286.50" y2="138.20" stroke="#333" stroke-width="1.2"/>
<line x1="284.50" y1="158.70" x2="286.50" y2="158.70" stroke="#333" stroke-width="1.2"/>
<line x1="408.50" y1="138.20" x2="406.50" y2="138.20" stroke="#333" stroke-width="1.2"/>
<line x1="408.50" y1="158.70" x2="406.50" y2="158.70" stroke="#333" stroke-width="1.2"/>
<text x="282.20" y="141.60" font-family="'Liberation Serif', serif" font-size="8" text-anchor="end" fill="#1a1a1a">1</text>
<text x="282.90" y="161.70" font-family="'Liberation Serif', serif" font-size="8" text-anchor="end" fill="#1a1a1a">0</text>
<text x="454.00" y="152.05" text-anchor="end" font-family="'Liberation Sans', sans-serif" font-size="10" fill="#1a1a1a">mm/s</text>
<text transform="translate(427.25,152.05) scale(1,1.1)" text-anchor="end" font-family="'Liberation Serif', serif" font-size="9.2" fill="#1a1a1a">1.4</text>
<text transform="translate(470.30,152.05) scale(1,1.1)" font-family="'Liberation Serif', serif" font-size="9.2" fill="#1a1a1a">100</text>
<path d="M284.50,186.48 C285.82,185.80 287.15,185.08 288.47,184.43 C289.79,183.78 291.11,183.23 292.44,182.59 C294.59,181.54 296.73,180.21 298.88,179.31 C300.00,178.84 301.12,178.56 302.23,178.08 C303.51,177.52 304.79,176.54 306.08,176.03 C307.36,175.51 308.64,175.21 309.92,174.80 C310.54,174.59 311.16,174.18 311.78,174.18 C313.14,174.18 314.51,175.26 315.87,176.03 C317.57,176.98 319.26,178.78 320.96,179.92 C323.15,181.39 325.34,182.92 327.53,183.81 C329.72,184.71 331.91,185.46 334.10,185.87 C336.17,186.25 338.23,186.69 340.30,186.69 C342.37,186.69 344.43,186.69 346.50,186.69 C354.77,186.69 363.03,186.43 371.30,186.28 C374.61,186.21 377.91,186.07 381.22,186.07 C384.11,186.07 387.01,186.69 389.90,186.69 C396.10,186.69 402.30,186.69 408.50,186.69" fill="none" stroke="#ff3030" stroke-width="1.3" stroke-linejoin="round" stroke-dasharray="3,2"/>
<path d="M284.50,186.89 C287.15,186.55 289.79,186.24 292.44,185.87 C294.59,185.56 296.73,185.18 298.88,184.84 C299.75,184.70 300.62,184.63 301.49,184.43 C303.02,184.08 304.55,181.97 306.08,181.97 C307.36,181.97 308.64,182.59 309.92,182.59 C311.90,182.59 313.89,182.15 315.87,181.97 C317.57,181.82 319.26,181.64 320.96,181.56 C323.15,181.46 325.34,181.36 327.53,181.36 C329.72,181.36 331.91,181.36 334.10,181.36 C336.17,181.36 338.23,181.45 340.30,181.56 C342.37,181.67 344.43,182.18 346.50,182.38 C350.34,182.75 354.19,182.98 358.03,183.20 C362.37,183.45 366.71,183.58 371.05,183.81 C374.44,184.00 377.83,184.09 381.22,184.43 C383.70,184.68 386.18,186.07 388.66,186.28 C391.43,186.51 394.20,186.61 396.97,186.69 C400.81,186.79 404.66,186.82 408.50,186.89" fill="none" stroke="#ff1c1c" stroke-width="1.8" stroke-linejoin="round"/>
<rect x="284.50" y="166.80" width="124.00" height="20.50" fill="none" stroke="#6e6e6e" stroke-width="1.2"/>
<line x1="315.50" y1="166.80" x2="315.50" y2="168.80" stroke="#333" stroke-width="1"/>
<line x1="315.50" y1="187.30" x2="315.50" y2="185.30" stroke="#333" stroke-width="1"/>
<line x1="346.50" y1="166.80" x2="346.50" y2="168.80" stroke="#333" stroke-width="1"/>
<line x1="346.50" y1="187.30" x2="346.50" y2="185.30" stroke="#333" stroke-width="1"/>
<line x1="377.50" y1="166.80" x2="377.50" y2="168.80" stroke="#333" stroke-width="1"/>
<line x1="377.50" y1="187.30" x2="377.50" y2="185.30" stroke="#333" stroke-width="1"/>
<line x1="284.50" y1="166.80" x2="286.50" y2="166.80" stroke="#333" stroke-width="1.2"/>
<line x1="284.50" y1="187.30" x2="286.50" y2="187.30" stroke="#333" stroke-width="1.2"/>
<line x1="408.50" y1="166.80" x2="406.50" y2="166.80" stroke="#333" stroke-width="1.2"/>
<line x1="408.50" y1="187.30" x2="406.50" y2="187.30" stroke="#333" stroke-width="1.2"/>
<text x="282.20" y="170.20" font-family="'Liberation Serif', serif" font-size="8" text-anchor="end" fill="#1a1a1a">1</text>
<text x="282.90" y="190.30" font-family="'Liberation Serif', serif" font-size="8" text-anchor="end" fill="#1a1a1a">0</text>
<text x="454.00" y="180.65" text-anchor="end" font-family="'Liberation Sans', sans-serif" font-size="10" fill="#1a1a1a">mm/s</text>
<text transform="translate(427.25,180.65) scale(1,1.1)" text-anchor="end" font-family="'Liberation Serif', serif" font-size="9.2" fill="#1a1a1a">3.6</text>
<text transform="translate(470.30,180.65) scale(1,1.1)" font-family="'Liberation Serif', serif" font-size="9.2" fill="#1a1a1a">500</text>
<path d="M284.50,206.06 C285.82,205.58 287.15,205.16 288.47,204.62 C289.79,204.09 291.11,203.37 292.44,202.78 C293.72,202.21 295.00,201.64 296.28,201.14 C296.65,201.00 297.02,200.73 297.40,200.73 C299.01,200.73 300.62,201.86 302.23,202.78 C303.51,203.52 304.79,204.87 306.08,206.06 C307.36,207.25 308.64,208.70 309.92,209.96 C311.08,211.09 312.23,212.28 313.39,213.24 C314.22,213.92 315.05,215.02 315.87,215.08 C317.81,215.23 319.76,215.28 321.70,215.28 C342.37,215.28 363.03,215.28 383.70,215.28 C385.77,215.28 387.83,215.69 389.90,215.69 C396.10,215.69 402.30,215.69 408.50,215.69" fill="none" stroke="#ff3030" stroke-width="1.3" stroke-linejoin="round" stroke-dasharray="3,2"/>
<path d="M284.50,214.47 C287.15,214.26 289.79,214.16 292.44,213.85 C294.59,213.60 296.73,212.41 298.88,212.41 C300.00,212.41 301.12,212.83 302.23,212.83 C303.51,212.83 304.79,211.31 306.08,211.19 C307.36,211.06 308.64,210.98 309.92,210.98 C311.90,210.98 313.89,211.19 315.87,211.19 C317.81,211.19 319.76,210.78 321.70,210.78 C325.83,210.78 329.97,210.78 334.10,210.78 C338.23,210.78 342.37,211.10 346.50,211.39 C350.34,211.66 354.19,212.83 358.03,212.83 C360.18,212.83 362.33,212.62 364.48,212.41 C366.67,212.21 368.86,211.75 371.05,211.19 C372.17,210.90 373.28,210.21 374.40,209.96 C375.64,209.67 376.88,209.34 378.12,209.34 C379.57,209.34 381.01,212.32 382.46,213.24 C383.70,214.02 384.94,214.93 386.18,215.08 C389.49,215.49 392.79,215.69 396.10,215.69 C400.23,215.69 404.37,215.69 408.50,215.69" fill="none" stroke="#ff1c1c" stroke-width="1.8" stroke-linejoin="round"/>
<rect x="284.50" y="195.40" width="124.00" height="20.50" fill="none" stroke="#6e6e6e" stroke-width="1.2"/>
<line x1="315.50" y1="195.40" x2="315.50" y2="197.40" stroke="#333" stroke-width="1"/>
<line x1="315.50" y1="215.90" x2="315.50" y2="213.90" stroke="#333" stroke-width="1"/>
<line x1="346.50" y1="195.40" x2="346.50" y2="197.40" stroke="#333" stroke-width="1"/>
<line x1="346.50" y1="215.90" x2="346.50" y2="213.90" stroke="#333" stroke-width="1"/>
<line x1="377.50" y1="195.40" x2="377.50" y2="197.40" stroke="#333" stroke-width="1"/>
<line x1="377.50" y1="215.90" x2="377.50" y2="213.90" stroke="#333" stroke-width="1"/>
<line x1="284.50" y1="195.40" x2="286.50" y2="195.40" stroke="#333" stroke-width="1.2"/>
<line x1="284.50" y1="215.90" x2="286.50" y2="215.90" stroke="#333" stroke-width="1.2"/>
<line x1="408.50" y1="195.40" x2="406.50" y2="195.40" stroke="#333" stroke-width="1.2"/>
<line x1="408.50" y1="215.90" x2="406.50" y2="215.90" stroke="#333" stroke-width="1.2"/>
<text x="282.20" y="198.80" font-family="'Liberation Serif', serif" font-size="8" text-anchor="end" fill="#1a1a1a">1</text>
<text x="282.90" y="218.90" font-family="'Liberation Serif', serif" font-size="8" text-anchor="end" fill="#1a1a1a">0</text>
<text x="454.00" y="209.25" text-anchor="end" font-family="'Liberation Sans', sans-serif" font-size="10" fill="#1a1a1a">mm/s</text>
<text transform="translate(427.25,209.25) scale(1,1.1)" text-anchor="end" font-family="'Liberation Serif', serif" font-size="9.2" fill="#1a1a1a">8.4</text>
<text transform="translate(470.30,209.25) scale(1,1.1)" font-family="'Liberation Serif', serif" font-size="9.2" fill="#1a1a1a">1000</text>
<path d="M284.50,224.82 C285.82,226.12 287.15,227.66 288.47,228.72 C289.79,229.77 291.11,230.88 292.44,231.38 C293.72,231.87 295.00,231.99 296.28,232.41 C297.15,232.68 298.02,233.03 298.88,233.43 C300.00,233.94 301.12,234.53 302.23,235.28 C303.51,236.13 304.79,237.46 306.08,238.56 C307.36,239.65 308.64,241.00 309.92,241.84 C311.08,242.59 312.23,243.50 313.39,243.68 C314.09,243.79 314.80,243.89 315.50,243.89 C337.41,243.89 359.31,243.89 381.22,243.89 C382.87,243.89 384.53,244.30 386.18,244.30 C393.62,244.30 401.06,244.30 408.50,244.30" fill="none" stroke="#ff3030" stroke-width="1.3" stroke-linejoin="round" stroke-dasharray="3,2"/>
<path d="M284.50,243.48 C287.15,243.13 289.79,242.83 292.44,242.45 C294.59,242.14 296.73,241.43 298.88,241.43 C300.00,241.43 301.12,241.63 302.23,241.63 C303.51,241.63 304.79,240.40 306.08,240.40 C307.36,240.40 308.64,240.40 309.92,240.40 C311.78,240.40 313.64,240.20 315.50,240.20 C325.83,240.20 336.17,240.35 346.50,240.61 C350.34,240.70 354.19,241.43 358.03,241.43 C360.18,241.43 362.33,240.95 364.48,240.40 C365.80,240.06 367.13,238.80 368.45,238.35 C369.52,237.99 370.60,237.53 371.67,237.53 C373.20,237.53 374.73,238.00 376.26,238.56 C377.50,239.01 378.74,241.05 379.98,241.84 C381.22,242.62 382.46,243.59 383.70,243.68 C387.83,243.98 391.97,244.09 396.10,244.09 C400.23,244.09 404.37,244.09 408.50,244.09" fill="none" stroke="#ff1c1c" stroke-width="1.8" stroke-linejoin="round"/>
<rect x="284.50" y="224.00" width="124.00" height="20.50" fill="none" stroke="#6e6e6e" stroke-width="1.2"/>
<line x1="315.50" y1="224.00" x2="315.50" y2="226.00" stroke="#333" stroke-width="1"/>
<line x1="315.50" y1="244.50" x2="315.50" y2="242.50" stroke="#333" stroke-width="1"/>
<line x1="346.50" y1="224.00" x2="346.50" y2="226.00" stroke="#333" stroke-width="1"/>
<line x1="346.50" y1="244.50" x2="346.50" y2="242.50" stroke="#333" stroke-width="1"/>
<line x1="377.50" y1="224.00" x2="377.50" y2="226.00" stroke="#333" stroke-width="1"/>
<line x1="377.50" y1="244.50" x2="377.50" y2="242.50" stroke="#333" stroke-width="1"/>
<line x1="284.50" y1="224.00" x2="286.50" y2="224.00" stroke="#333" stroke-width="1.2"/>
<line x1="284.50" y1="244.50" x2="286.50" y2="244.50" stroke="#333" stroke-width="1.2"/>
<line x1="408.50" y1="224.00" x2="406.50" y2="224.00" stroke="#333" stroke-width="1.2"/>
<line x1="408.50" y1="244.50" x2="406.50" y2="244.50" stroke="#333" stroke-width="1.2"/>
<text x="282.20" y="227.40" font-family="'Liberation Serif', serif" font-size="8" text-anchor="end" fill="#1a1a1a">1</text>
<text x="282.90" y="247.50" font-family="'Liberation Serif', serif" font-size="8" text-anchor="end" fill="#1a1a1a">0</text>
<text x="454.00" y="237.85" text-anchor="end" font-family="'Liberation Sans', sans-serif" font-size="10" fill="#1a1a1a">mm/s</text>
<text transform="translate(427.25,237.85) scale(1,1.1)" text-anchor="end" font-family="'Liberation Serif', serif" font-size="9.2" fill="#1a1a1a">17</text>
<text transform="translate(470.30,237.85) scale(1,1.1)" font-family="'Liberation Serif', serif" font-size="9.2" fill="#1a1a1a">2000</text>
<text x="284.50" y="253.40" font-family="'Liberation Serif', serif" font-size="8.8" text-anchor="middle" fill="#1a1a1a">0</text>
<text x="315.50" y="253.40" font-family="'Liberation Serif', serif" font-size="8.8" text-anchor="middle" fill="#1a1a1a">0.25</text>
<text x="346.50" y="253.40" font-family="'Liberation Serif', serif" font-size="8.8" text-anchor="middle" fill="#1a1a1a">0.5</text>
<text x="377.50" y="253.40" font-family="'Liberation Serif', serif" font-size="8.8" text-anchor="middle" fill="#1a1a1a">0.75</text>
<text x="408.50" y="253.40" font-family="'Liberation Serif', serif" font-size="8.8" text-anchor="middle" fill="#1a1a1a">1</text>
<text x="346.50" y="263.90" font-family="'Liberation Serif', serif" font-size="9" text-anchor="middle" fill="#1a1a1a">Lateral Position</text>
<text transform="translate(269.40,150.00) rotate(-90)" x="0" y="0" font-family="'Liberation Serif', serif" font-size="8.9" text-anchor="middle" fill="#404040" style="stroke:none">Normalized Intensity (AU)</text>
<text x="435.00" y="46.40" font-family="'Liberation Sans', sans-serif" font-style="italic" font-size="10" text-anchor="middle" fill="#1a1a1a">u</text>
<text x="458.00" y="46.40" font-family="'Liberation Sans', sans-serif" font-size="9.6" fill="#1a1a1a">Δp</text>
<text x="472.60" y="46.40" font-family="'Liberation Serif', serif" font-size="8.9" fill="#1a1a1a">(mbar)</text>
<rect x="255.80" y="3.80" width="14.50" height="15.30" fill="none" stroke="#111" stroke-width="1.3"/>
<text x="263.05" y="16.00" font-family="'Liberation Serif', serif" font-size="13" text-anchor="middle" fill="#222">B</text>
<line x1="285.3" y1="23.7" x2="302.8" y2="23.7" stroke="#ff3030" stroke-width="1.3" stroke-dasharray="3,1.8"/>
<line x1="285.3" y1="36.2" x2="303" y2="36.2" stroke="#ff1c1c" stroke-width="1.8"/>
<text x="310.00" y="27.20" fill="#1a1a1a"><tspan font-family="'Liberation Serif', serif" font-size="9.3">48.5 kbp, 6 </tspan><tspan font-family="'Liberation Sans', sans-serif" font-size="10">μg/mL</tspan></text>
<text x="310.00" y="39.70" fill="#1a1a1a"><tspan font-family="'Liberation Serif', serif" font-size="9.3">48.5 kbp, 117 </tspan><tspan font-family="'Liberation Sans', sans-serif" font-size="10">μg/mL</tspan></text>
<path d="M32.70,348.73 C44.81,348.73 56.92,348.73 69.04,348.73 C73.21,348.73 77.39,347.83 81.57,347.45 C86.83,346.97 92.09,346.35 97.35,346.17 C103.37,345.97 109.38,346.09 115.40,345.81 C117.07,345.73 118.74,343.81 120.41,343.06 C122.33,342.19 124.25,340.87 126.17,340.87 C127.05,340.87 127.93,342.15 128.81,342.15 C130.56,342.15 132.31,339.04 134.07,339.04 C135.78,339.04 137.49,340.27 139.20,340.87 C140.46,341.30 141.71,341.58 142.96,342.15 C144.22,342.72 145.47,343.97 146.72,344.71 C148.39,345.69 150.06,346.73 151.74,347.27 C153.82,347.95 155.91,348.25 158.00,348.73" fill="none" stroke="#1b9452" stroke-width="1.3" stroke-linejoin="round" stroke-dasharray="3,2"/>
<path d="M32.70,348.92 C57.76,348.86 82.82,348.89 107.88,348.73 C109.55,348.72 111.22,348.67 112.89,348.55 C114.56,348.43 116.23,345.99 117.90,344.71 C119.57,343.43 121.25,341.82 122.92,340.87 C125.84,339.19 128.76,337.63 131.69,337.02 C133.36,336.67 135.03,336.29 136.70,336.29 C138.37,336.29 140.04,337.28 141.71,338.12 C143.38,338.96 145.05,340.80 146.72,342.15 C148.39,343.49 150.06,345.28 151.74,346.17 C153.41,347.07 155.08,347.64 156.75,348.19 C157.16,348.32 157.58,348.43 158.00,348.55" fill="none" stroke="#0f8c46" stroke-width="1.8" stroke-linejoin="round"/>
<rect x="32.70" y="330.80" width="125.30" height="18.30" fill="none" stroke="#6e6e6e" stroke-width="1.2"/>
<line x1="64.03" y1="330.80" x2="64.03" y2="332.80" stroke="#333" stroke-width="1"/>
<line x1="64.03" y1="349.10" x2="64.03" y2="347.10" stroke="#333" stroke-width="1"/>
<line x1="95.35" y1="330.80" x2="95.35" y2="332.80" stroke="#333" stroke-width="1"/>
<line x1="95.35" y1="349.10" x2="95.35" y2="347.10" stroke="#333" stroke-width="1"/>
<line x1="126.67" y1="330.80" x2="126.67" y2="332.80" stroke="#333" stroke-width="1"/>
<line x1="126.67" y1="349.10" x2="126.67" y2="347.10" stroke="#333" stroke-width="1"/>
<line x1="32.70" y1="330.80" x2="34.70" y2="330.80" stroke="#333" stroke-width="1.2"/>
<line x1="32.70" y1="349.10" x2="34.70" y2="349.10" stroke="#333" stroke-width="1.2"/>
<line x1="158.00" y1="330.80" x2="156.00" y2="330.80" stroke="#333" stroke-width="1.2"/>
<line x1="158.00" y1="349.10" x2="156.00" y2="349.10" stroke="#333" stroke-width="1.2"/>
<text x="30.40" y="334.20" font-family="'Liberation Serif', serif" font-size="8" text-anchor="end" fill="#1a1a1a">1</text>
<text x="31.10" y="352.10" font-family="'Liberation Serif', serif" font-size="8" text-anchor="end" fill="#1a1a1a">0</text>
<text x="203.00" y="343.55" text-anchor="end" font-family="'Liberation Sans', sans-serif" font-size="10" fill="#1a1a1a">μm/s</text>
<text transform="translate(178.82,343.55) scale(1,1.1)" text-anchor="end" font-family="'Liberation Serif', serif" font-size="9.2" fill="#1a1a1a">60</text>
<text transform="translate(219.30,343.55) scale(1,1.1)" font-family="'Liberation Serif', serif" font-size="9.2" fill="#1a1a1a">10</text>
<path d="M32.70,373.93 C41.81,373.81 50.91,373.77 60.02,373.57 C66.70,373.42 73.38,373.02 80.06,372.47 C85.16,372.05 90.25,370.97 95.35,370.09 C98.27,369.59 101.20,368.66 104.12,368.44 C106.75,368.25 109.38,368.27 112.01,368.08 C114.69,367.88 117.36,366.93 120.03,366.61 C121.37,366.46 122.71,366.25 124.04,366.25 C125.38,366.25 126.72,368.47 128.05,368.63 C130.06,368.86 132.06,368.76 134.07,368.99 C135.36,369.14 136.66,370.32 137.95,371.01 C139.21,371.67 140.46,372.72 141.71,373.02 C143.38,373.41 145.05,373.70 146.72,373.75 C150.48,373.87 154.24,373.87 158.00,373.93" fill="none" stroke="#1b9452" stroke-width="1.3" stroke-linejoin="round" stroke-dasharray="3,2"/>
<path d="M32.70,373.93 C41.81,373.81 50.91,373.73 60.02,373.57 C66.70,373.45 73.38,373.29 80.06,373.02 C85.16,372.81 90.25,372.39 95.35,371.92 C98.90,371.60 102.45,371.18 106.00,370.64 C109.34,370.14 112.68,369.31 116.02,368.63 C118.70,368.08 121.37,366.98 124.04,366.98 C125.38,366.98 126.72,366.98 128.05,366.98 C130.73,366.98 133.40,367.05 136.07,367.16 C138.75,367.27 141.42,368.35 144.09,368.99 C146.76,369.63 149.44,371.01 152.11,371.01 C154.07,371.01 156.04,370.76 158.00,370.64" fill="none" stroke="#0f8c46" stroke-width="1.8" stroke-linejoin="round"/>
<rect x="32.70" y="356.00" width="125.30" height="18.30" fill="none" stroke="#6e6e6e" stroke-width="1.2"/>
<line x1="64.03" y1="356.00" x2="64.03" y2="358.00" stroke="#333" stroke-width="1"/>
<line x1="64.03" y1="374.30" x2="64.03" y2="372.30" stroke="#333" stroke-width="1"/>
<line x1="95.35" y1="356.00" x2="95.35" y2="358.00" stroke="#333" stroke-width="1"/>
<line x1="95.35" y1="374.30" x2="95.35" y2="372.30" stroke="#333" stroke-width="1"/>
<line x1="126.67" y1="356.00" x2="126.67" y2="358.00" stroke="#333" stroke-width="1"/>
<line x1="126.67" y1="374.30" x2="126.67" y2="372.30" stroke="#333" stroke-width="1"/>
<line x1="32.70" y1="356.00" x2="34.70" y2="356.00" stroke="#333" stroke-width="1.2"/>
<line x1="32.70" y1="374.30" x2="34.70" y2="374.30" stroke="#333" stroke-width="1.2"/>
<line x1="158.00" y1="356.00" x2="156.00" y2="356.00" stroke="#333" stroke-width="1.2"/>
<line x1="158.00" y1="374.30" x2="156.00" y2="374.30" stroke="#333" stroke-width="1.2"/>
<text x="30.40" y="359.40" font-family="'Liberation Serif', serif" font-size="8" text-anchor="end" fill="#1a1a1a">1</text>
<text x="31.10" y="377.30" font-family="'Liberation Serif', serif" font-size="8" text-anchor="end" fill="#1a1a1a">0</text>
<text x="203.00" y="368.75" text-anchor="end" font-family="'Liberation Sans', sans-serif" font-size="10" fill="#1a1a1a">μm/s</text>
<text transform="translate(178.82,368.75) scale(1,1.1)" text-anchor="end" font-family="'Liberation Serif', serif" font-size="9.2" fill="#1a1a1a">110</text>
<text transform="translate(219.30,368.75) scale(1,1.1)" font-family="'Liberation Serif', serif" font-size="9.2" fill="#1a1a1a">20</text>
<path d="M32.70,399.13 C34.79,398.95 36.88,398.83 38.97,398.58 C41.05,398.34 43.14,397.64 45.23,397.49 C49.41,397.17 53.58,396.94 57.76,396.94 C65.70,396.94 73.63,396.94 81.57,396.94 C84.28,396.94 87.00,395.70 89.71,394.93 C92.26,394.20 94.81,393.42 97.35,392.36 C98.77,391.77 100.19,390.17 101.62,390.17 C103.70,390.17 105.79,391.90 107.88,392.36 C111.39,393.15 114.90,393.09 118.41,394.01 C120.12,394.46 121.83,396.31 123.54,396.94 C126.13,397.88 128.72,398.75 131.31,398.95 C133.94,399.16 136.57,399.32 139.20,399.32 C145.47,399.32 151.73,399.32 158.00,399.32" fill="none" stroke="#1b9452" stroke-width="1.3" stroke-linejoin="round" stroke-dasharray="3,2"/>
<path d="M32.70,399.32 C41.05,399.26 49.41,399.20 57.76,399.13 C65.70,399.07 73.63,399.08 81.57,398.95 C84.07,398.91 86.58,398.66 89.09,398.40 C91.84,398.12 94.60,397.30 97.35,396.94 C100.86,396.47 104.37,395.84 107.88,395.84 C111.39,395.84 114.90,395.84 118.41,395.84 C120.12,395.84 121.83,394.64 123.54,394.01 C126.13,393.06 128.72,391.48 131.31,391.08 C133.11,390.80 134.90,390.53 136.70,390.53 C139.21,390.53 141.71,392.07 144.22,393.10 C146.72,394.12 149.23,395.95 151.74,396.94 C153.41,397.60 155.08,398.07 156.75,398.58 C157.16,398.71 157.58,398.83 158.00,398.95" fill="none" stroke="#0f8c46" stroke-width="1.8" stroke-linejoin="round"/>
<rect x="32.70" y="381.20" width="125.30" height="18.30" fill="none" stroke="#6e6e6e" stroke-width="1.2"/>
<line x1="64.03" y1="381.20" x2="64.03" y2="383.20" stroke="#333" stroke-width="1"/>
<line x1="64.03" y1="399.50" x2="64.03" y2="397.50" stroke="#333" stroke-width="1"/>
<line x1="95.35" y1="381.20" x2="95.35" y2="383.20" stroke="#333" stroke-width="1"/>
<line x1="95.35" y1="399.50" x2="95.35" y2="397.50" stroke="#333" stroke-width="1"/>
<line x1="126.67" y1="381.20" x2="126.67" y2="383.20" stroke="#333" stroke-width="1"/>
<line x1="126.67" y1="399.50" x2="126.67" y2="397.50" stroke="#333" stroke-width="1"/>
<line x1="32.70" y1="381.20" x2="34.70" y2="381.20" stroke="#333" stroke-width="1.2"/>
<line x1="32.70" y1="399.50" x2="34.70" y2="399.50" stroke="#333" stroke-width="1.2"/>
<line x1="158.00" y1="381.20" x2="156.00" y2="381.20" stroke="#333" stroke-width="1.2"/>
<line x1="158.00" y1="399.50" x2="156.00" y2="399.50" stroke="#333" stroke-width="1.2"/>
<text x="30.40" y="384.60" font-family="'Liberation Serif', serif" font-size="8" text-anchor="end" fill="#1a1a1a">1</text>
<text x="31.10" y="402.50" font-family="'Liberation Serif', serif" font-size="8" text-anchor="end" fill="#1a1a1a">0</text>
<text x="203.00" y="393.95" text-anchor="end" font-family="'Liberation Sans', sans-serif" font-size="10" fill="#1a1a1a">μm/s</text>
<text transform="translate(178.82,393.95) scale(1,1.1)" text-anchor="end" font-family="'Liberation Serif', serif" font-size="9.2" fill="#1a1a1a">300</text>
<text transform="translate(219.30,393.95) scale(1,1.1)" font-family="'Liberation Serif', serif" font-size="9.2" fill="#1a1a1a">50</text>
<path d="M32.70,423.78 C36.88,423.36 41.05,422.80 45.23,422.50 C48.57,422.27 51.91,421.95 55.25,421.95 C64.03,421.95 72.80,422.50 81.57,422.50 C84.28,422.50 87.00,420.84 89.71,419.94 C93.05,418.84 96.39,416.46 99.74,416.46 C102.45,416.46 105.17,418.60 107.88,419.21 C112.06,420.14 116.23,420.37 120.41,421.22 C122.92,421.74 125.42,422.91 127.93,423.24 C131.69,423.72 135.45,424.15 139.20,424.15 C145.47,424.15 151.73,424.15 158.00,424.15" fill="none" stroke="#1b9452" stroke-width="1.3" stroke-linejoin="round" stroke-dasharray="3,2"/>
<path d="M32.70,424.33 C41.05,424.27 49.41,424.23 57.76,424.15 C66.11,424.07 74.47,424.02 82.82,423.78 C87.00,423.67 91.17,422.61 95.35,422.50 C99.53,422.40 103.70,422.40 107.88,422.32 C112.06,422.24 116.23,422.24 120.41,421.95 C121.66,421.87 122.92,420.26 124.17,419.21 C125.42,418.16 126.67,416.18 127.93,415.55 C129.18,414.92 130.43,414.27 131.69,414.27 C134.61,414.27 137.53,414.88 140.46,415.55 C142.96,416.12 145.47,417.82 147.98,419.21 C150.06,420.37 152.15,422.53 154.24,423.24 C155.49,423.66 156.75,423.85 158.00,424.15" fill="none" stroke="#0f8c46" stroke-width="1.8" stroke-linejoin="round"/>
<rect x="32.70" y="406.40" width="125.30" height="18.30" fill="none" stroke="#6e6e6e" stroke-width="1.2"/>
<line x1="64.03" y1="406.40" x2="64.03" y2="408.40" stroke="#333" stroke-width="1"/>
<line x1="64.03" y1="424.70" x2="64.03" y2="422.70" stroke="#333" stroke-width="1"/>
<line x1="95.35" y1="406.40" x2="95.35" y2="408.40" stroke="#333" stroke-width="1"/>
<line x1="95.35" y1="424.70" x2="95.35" y2="422.70" stroke="#333" stroke-width="1"/>
<line x1="126.67" y1="406.40" x2="126.67" y2="408.40" stroke="#333" stroke-width="1"/>
<line x1="126.67" y1="424.70" x2="126.67" y2="422.70" stroke="#333" stroke-width="1"/>
<line x1="32.70" y1="406.40" x2="34.70" y2="406.40" stroke="#333" stroke-width="1.2"/>
<line x1="32.70" y1="424.70" x2="34.70" y2="424.70" stroke="#333" stroke-width="1.2"/>
<line x1="158.00" y1="406.40" x2="156.00" y2="406.40" stroke="#333" stroke-width="1.2"/>
<line x1="158.00" y1="424.70" x2="156.00" y2="424.70" stroke="#333" stroke-width="1.2"/>
<text x="30.40" y="409.80" font-family="'Liberation Serif', serif" font-size="8" text-anchor="end" fill="#1a1a1a">1</text>
<text x="31.10" y="427.70" font-family="'Liberation Serif', serif" font-size="8" text-anchor="end" fill="#1a1a1a">0</text>
<text x="203.00" y="419.15" text-anchor="end" font-family="'Liberation Sans', sans-serif" font-size="10" fill="#1a1a1a">μm/s</text>
<text transform="translate(178.82,419.15) scale(1,1.1)" text-anchor="end" font-family="'Liberation Serif', serif" font-size="9.2" fill="#1a1a1a">640</text>
<text transform="translate(219.30,419.15) scale(1,1.1)" font-family="'Liberation Serif', serif" font-size="9.2" fill="#1a1a1a">100</text>
<path d="M32.70,440.20 C33.54,441.30 34.37,442.50 35.21,443.50 C36.46,444.98 37.71,446.90 38.97,447.52 C40.30,448.18 41.64,448.73 42.97,448.80 C45.15,448.92 47.32,448.92 49.49,448.99 C53.83,449.11 58.18,449.35 62.52,449.35 C64.69,449.35 66.87,449.35 69.04,449.35 C70.71,449.35 72.38,448.31 74.05,447.70 C76.14,446.95 78.23,445.65 80.31,445.14 C82.82,444.53 85.33,443.86 87.83,443.86 C90.34,443.86 92.84,444.61 95.35,445.33 C97.44,445.92 99.53,448.04 101.62,448.44 C103.70,448.83 105.79,449.14 107.88,449.17 C120.41,449.32 132.94,449.25 145.47,449.35 C149.65,449.38 153.82,449.47 158.00,449.53" fill="none" stroke="#1b9452" stroke-width="1.3" stroke-linejoin="round" stroke-dasharray="3,2"/>
<path d="M32.70,446.79 C33.95,446.79 35.21,446.79 36.46,446.79 C40.80,446.79 45.15,446.79 49.49,446.79 C53.83,446.79 58.18,447.46 62.52,447.89 C64.69,448.10 66.87,448.62 69.04,448.62 C71.21,448.62 73.38,448.48 75.55,448.44 C79.85,448.35 84.16,448.34 88.46,448.25 C90.67,448.21 92.89,448.15 95.10,448.07 C99.36,447.91 103.62,447.46 107.88,447.16 C112.27,446.85 116.65,446.51 121.04,446.24 C125.34,445.97 129.64,445.84 133.94,445.51 C135.70,445.37 137.45,444.96 139.20,444.96 C140.88,444.96 142.55,446.81 144.22,447.52 C145.55,448.09 146.89,448.80 148.23,448.99 C151.48,449.43 154.74,449.47 158.00,449.72" fill="none" stroke="#0f8c46" stroke-width="1.8" stroke-linejoin="round"/>
<rect x="32.70" y="431.60" width="125.30" height="18.30" fill="none" stroke="#6e6e6e" stroke-width="1.2"/>
<line x1="64.03" y1="431.60" x2="64.03" y2="433.60" stroke="#333" stroke-width="1"/>
<line x1="64.03" y1="449.90" x2="64.03" y2="447.90" stroke="#333" stroke-width="1"/>
<line x1="95.35" y1="431.60" x2="95.35" y2="433.60" stroke="#333" stroke-width="1"/>
<line x1="95.35" y1="449.90" x2="95.35" y2="447.90" stroke="#333" stroke-width="1"/>
<line x1="126.67" y1="431.60" x2="126.67" y2="433.60" stroke="#333" stroke-width="1"/>
<line x1="126.67" y1="449.90" x2="126.67" y2="447.90" stroke="#333" stroke-width="1"/>
<line x1="32.70" y1="431.60" x2="34.70" y2="431.60" stroke="#333" stroke-width="1.2"/>
<line x1="32.70" y1="449.90" x2="34.70" y2="449.90" stroke="#333" stroke-width="1.2"/>
<line x1="158.00" y1="431.60" x2="156.00" y2="431.60" stroke="#333" stroke-width="1.2"/>
<line x1="158.00" y1="449.90" x2="156.00" y2="449.90" stroke="#333" stroke-width="1.2"/>
<text x="30.40" y="435.00" font-family="'Liberation Serif', serif" font-size="8" text-anchor="end" fill="#1a1a1a">1</text>
<text x="31.10" y="452.90" font-family="'Liberation Serif', serif" font-size="8" text-anchor="end" fill="#1a1a1a">0</text>
<text x="203.00" y="444.35" text-anchor="end" font-family="'Liberation Sans', sans-serif" font-size="10" fill="#1a1a1a">mm/s</text>
<text transform="translate(176.25,444.35) scale(1,1.1)" text-anchor="end" font-family="'Liberation Serif', serif" font-size="9.2" fill="#1a1a1a">5.8</text>
<text transform="translate(219.30,444.35) scale(1,1.1)" font-family="'Liberation Serif', serif" font-size="9.2" fill="#1a1a1a">500</text>
<path d="M32.70,462.47 C33.54,464.00 34.37,465.66 35.21,467.05 C36.04,468.44 36.88,470.23 37.71,470.89 C38.63,471.62 39.55,472.36 40.47,472.36 C43.48,472.36 46.48,471.81 49.49,471.81 C53.83,471.81 58.18,471.99 62.52,471.99 C64.69,471.99 66.87,471.18 69.04,470.89 C71.21,470.60 73.38,470.45 75.55,470.16 C77.68,469.87 79.81,469.06 81.94,469.06 C84.11,469.06 86.29,469.87 88.46,470.34 C90.67,470.83 92.89,471.43 95.10,471.99 C97.27,472.53 99.44,473.35 101.62,473.64 C103.70,473.91 105.79,474.04 107.88,474.19 C109.97,474.33 112.06,474.53 114.15,474.55 C128.76,474.70 143.38,474.67 158.00,474.73" fill="none" stroke="#1b9452" stroke-width="1.3" stroke-linejoin="round" stroke-dasharray="3,2"/>
<path d="M32.70,473.27 C36.88,473.70 41.05,474.44 45.23,474.55 C49.41,474.66 53.58,474.73 57.76,474.73 C61.52,474.73 65.28,474.73 69.04,474.73 C70.29,474.73 71.54,474.16 72.80,473.64 C74.13,473.08 75.47,471.81 76.81,470.71 C78.10,469.64 79.40,468.24 80.69,467.05 C81.78,466.05 82.86,464.12 83.95,464.12 C85.45,464.12 86.95,466.06 88.46,466.50 C90.67,467.14 92.89,467.20 95.10,467.78 C97.23,468.34 99.36,469.59 101.49,470.34 C103.62,471.09 105.75,471.95 107.88,472.36 C110.09,472.78 112.31,472.96 114.52,473.27 C116.69,473.57 118.86,474.07 121.04,474.19 C125.00,474.40 128.97,474.50 132.94,474.55 C141.29,474.66 149.65,474.67 158.00,474.73" fill="none" stroke="#0f8c46" stroke-width="1.8" stroke-linejoin="round"/>
<rect x="32.70" y="456.80" width="125.30" height="18.30" fill="none" stroke="#6e6e6e" stroke-width="1.2"/>
<line x1="64.03" y1="456.80" x2="64.03" y2="458.80" stroke="#333" stroke-width="1"/>
<line x1="64.03" y1="475.10" x2="64.03" y2="473.10" stroke="#333" stroke-width="1"/>
<line x1="95.35" y1="456.80" x2="95.35" y2="458.80" stroke="#333" stroke-width="1"/>
<line x1="95.35" y1="475.10" x2="95.35" y2="473.10" stroke="#333" stroke-width="1"/>
<line x1="126.67" y1="456.80" x2="126.67" y2="458.80" stroke="#333" stroke-width="1"/>
<line x1="126.67" y1="475.10" x2="126.67" y2="473.10" stroke="#333" stroke-width="1"/>
<line x1="32.70" y1="456.80" x2="34.70" y2="456.80" stroke="#333" stroke-width="1.2"/>
<line x1="32.70" y1="475.10" x2="34.70" y2="475.10" stroke="#333" stroke-width="1.2"/>
<line x1="158.00" y1="456.80" x2="156.00" y2="456.80" stroke="#333" stroke-width="1.2"/>
<line x1="158.00" y1="475.10" x2="156.00" y2="475.10" stroke="#333" stroke-width="1.2"/>
<text x="30.40" y="460.20" font-family="'Liberation Serif', serif" font-size="8" text-anchor="end" fill="#1a1a1a">1</text>
<text x="31.10" y="478.10" font-family="'Liberation Serif', serif" font-size="8" text-anchor="end" fill="#1a1a1a">0</text>
<text x="203.00" y="469.55" text-anchor="end" font-family="'Liberation Sans', sans-serif" font-size="10" fill="#1a1a1a">mm/s</text>
<text transform="translate(176.25,469.55) scale(1,1.1)" text-anchor="end" font-family="'Liberation Serif', serif" font-size="9.2" fill="#1a1a1a">7.9</text>
<text transform="translate(219.30,469.55) scale(1,1.1)" font-family="'Liberation Serif', serif" font-size="9.2" fill="#1a1a1a">1000</text>
<path d="M32.70,484.20 C32.87,485.48 33.03,487.49 33.20,488.04 C34.08,490.94 34.96,491.52 35.83,492.61 C36.71,493.71 37.59,494.82 38.46,495.18 C39.97,495.79 41.47,496.27 42.97,496.27 C45.15,496.27 47.32,496.03 49.49,495.91 C53.83,495.66 58.18,495.18 62.52,495.18 C64.69,495.18 66.87,495.18 69.04,495.18 C71.21,495.18 73.38,496.00 75.55,496.46 C77.68,496.91 79.81,497.60 81.94,497.92 C84.11,498.25 86.29,498.50 88.46,498.65 C90.76,498.82 93.05,498.87 95.35,499.02 C97.44,499.16 99.53,499.42 101.62,499.57 C103.70,499.71 105.79,499.93 107.88,499.93 C124.59,499.93 141.29,499.93 158.00,499.93" fill="none" stroke="#1b9452" stroke-width="1.3" stroke-linejoin="round" stroke-dasharray="3,2"/>
<path d="M32.70,498.47 C34.79,498.59 36.88,498.65 38.97,498.84 C41.05,499.02 43.14,499.93 45.23,499.93 C51.87,499.93 58.51,499.90 65.15,499.75 C66.45,499.72 67.74,498.62 69.04,497.92 C70.75,497.00 72.46,495.71 74.17,494.63 C75.93,493.52 77.68,492.38 79.44,491.33 C80.94,490.44 82.44,488.77 83.95,488.77 C85.03,488.77 86.12,490.07 87.21,490.78 C88.50,491.64 89.80,492.86 91.09,493.53 C92.43,494.22 93.76,494.69 95.10,495.18 C97.23,495.94 99.36,496.67 101.49,497.19 C103.62,497.71 105.75,498.16 107.88,498.47 C109.97,498.78 112.06,499.06 114.15,499.20 C118.32,499.48 122.50,499.70 126.67,499.75 C137.12,499.87 147.56,499.87 158.00,499.93" fill="none" stroke="#0f8c46" stroke-width="1.8" stroke-linejoin="round"/>
<rect x="32.70" y="482.00" width="125.30" height="18.30" fill="none" stroke="#6e6e6e" stroke-width="1.2"/>
<line x1="64.03" y1="482.00" x2="64.03" y2="484.00" stroke="#333" stroke-width="1"/>
<line x1="64.03" y1="500.30" x2="64.03" y2="498.30" stroke="#333" stroke-width="1"/>
<line x1="95.35" y1="482.00" x2="95.35" y2="484.00" stroke="#333" stroke-width="1"/>
<line x1="95.35" y1="500.30" x2="95.35" y2="498.30" stroke="#333" stroke-width="1"/>
<line x1="126.67" y1="482.00" x2="126.67" y2="484.00" stroke="#333" stroke-width="1"/>
<line x1="126.67" y1="500.30" x2="126.67" y2="498.30" stroke="#333" stroke-width="1"/>
<line x1="32.70" y1="482.00" x2="34.70" y2="482.00" stroke="#333" stroke-width="1.2"/>
<line x1="32.70" y1="500.30" x2="34.70" y2="500.30" stroke="#333" stroke-width="1.2"/>
<line x1="158.00" y1="482.00" x2="156.00" y2="482.00" stroke="#333" stroke-width="1.2"/>
<line x1="158.00" y1="500.30" x2="156.00" y2="500.30" stroke="#333" stroke-width="1.2"/>
<text x="30.40" y="485.40" font-family="'Liberation Serif', serif" font-size="8" text-anchor="end" fill="#1a1a1a">1</text>
<text x="31.10" y="503.30" font-family="'Liberation Serif', serif" font-size="8" text-anchor="end" fill="#1a1a1a">0</text>
<text x="203.00" y="494.75" text-anchor="end" font-family="'Liberation Sans', sans-serif" font-size="10" fill="#1a1a1a">mm/s</text>
<text transform="translate(176.25,494.75) scale(1,1.1)" text-anchor="end" font-family="'Liberation Serif', serif" font-size="9.2" fill="#1a1a1a">17</text>
<text transform="translate(219.30,494.75) scale(1,1.1)" font-family="'Liberation Serif', serif" font-size="9.2" fill="#1a1a1a">2000</text>
<path d="M32.70,511.77 C33.12,513.54 33.54,516.19 33.95,517.08 C34.79,518.86 35.62,520.38 36.46,520.38 C37.71,520.38 38.97,520.38 40.22,520.38 C42.01,520.38 43.81,517.63 45.61,517.63 C47.32,517.63 49.03,518.55 50.74,518.55 C52.92,518.55 55.09,517.24 57.26,517.08 C58.55,516.99 59.85,516.90 61.14,516.90 C63.31,516.90 65.49,519.46 67.66,520.38 C69.37,521.10 71.08,521.73 72.80,522.21 C75.01,522.81 77.22,523.29 79.44,523.67 C81.15,523.96 82.86,524.25 84.57,524.40 C86.50,524.57 88.42,524.68 90.34,524.77 C92.01,524.84 93.68,524.90 95.35,524.95 C99.53,525.09 103.70,525.32 107.88,525.32 C124.59,525.32 141.29,525.32 158.00,525.32" fill="none" stroke="#1b9452" stroke-width="1.3" stroke-linejoin="round" stroke-dasharray="3,2"/>
<path d="M32.70,525.32 C36.88,525.32 41.05,525.32 45.23,525.32 C46.65,525.32 48.07,524.95 49.49,524.59 C51.66,524.03 53.83,522.33 56.01,520.92 C57.72,519.82 59.43,518.44 61.14,517.08 C63.31,515.36 65.49,511.59 67.66,511.59 C69.37,511.59 71.08,512.48 72.80,513.24 C75.01,514.22 77.22,516.68 79.44,518.36 C81.15,519.66 82.86,521.29 84.57,522.21 C86.33,523.15 88.08,524.05 89.84,524.40 C91.67,524.77 93.51,525.12 95.35,525.13 C116.23,525.30 137.12,525.26 158.00,525.32" fill="none" stroke="#0f8c46" stroke-width="1.8" stroke-linejoin="round"/>
<rect x="32.70" y="507.20" width="125.30" height="18.30" fill="none" stroke="#6e6e6e" stroke-width="1.2"/>
<line x1="64.03" y1="507.20" x2="64.03" y2="509.20" stroke="#333" stroke-width="1"/>
<line x1="64.03" y1="525.50" x2="64.03" y2="523.50" stroke="#333" stroke-width="1"/>
<line x1="95.35" y1="507.20" x2="95.35" y2="509.20" stroke="#333" stroke-width="1"/>
<line x1="95.35" y1="525.50" x2="95.35" y2="523.50" stroke="#333" stroke-width="1"/>
<line x1="126.67" y1="507.20" x2="126.67" y2="509.20" stroke="#333" stroke-width="1"/>
<line x1="126.67" y1="525.50" x2="126.67" y2="523.50" stroke="#333" stroke-width="1"/>
<line x1="32.70" y1="507.20" x2="34.70" y2="507.20" stroke="#333" stroke-width="1.2"/>
<line x1="32.70" y1="525.50" x2="34.70" y2="525.50" stroke="#333" stroke-width="1.2"/>
<line x1="158.00" y1="507.20" x2="156.00" y2="507.20" stroke="#333" stroke-width="1.2"/>
<line x1="158.00" y1="525.50" x2="156.00" y2="525.50" stroke="#333" stroke-width="1.2"/>
<text x="30.40" y="510.60" font-family="'Liberation Serif', serif" font-size="8" text-anchor="end" fill="#1a1a1a">1</text>
<text x="31.10" y="528.50" font-family="'Liberation Serif', serif" font-size="8" text-anchor="end" fill="#1a1a1a">0</text>
<text x="203.00" y="519.95" text-anchor="end" font-family="'Liberation Sans', sans-serif" font-size="10" fill="#1a1a1a">mm/s</text>
<text transform="translate(176.25,519.95) scale(1,1.1)" text-anchor="end" font-family="'Liberation Serif', serif" font-size="9.2" fill="#1a1a1a">29</text>
<text transform="translate(219.30,519.95) scale(1,1.1)" font-family="'Liberation Serif', serif" font-size="9.2" fill="#1a1a1a">3000</text>
<text x="32.70" y="533.90" font-family="'Liberation Serif', serif" font-size="8.8" text-anchor="middle" fill="#1a1a1a">0</text>
<text x="64.03" y="533.90" font-family="'Liberation Serif', serif" font-size="8.8" text-anchor="middle" fill="#1a1a1a">0.25</text>
<text x="95.35" y="533.90" font-family="'Liberation Serif', serif" font-size="8.8" text-anchor="middle" fill="#1a1a1a">0.5</text>
<text x="126.67" y="533.90" font-family="'Liberation Serif', serif" font-size="8.8" text-anchor="middle" fill="#1a1a1a">0.75</text>
<text x="158.00" y="533.90" font-family="'Liberation Serif', serif" font-size="8.8" text-anchor="middle" fill="#1a1a1a">1</text>
<text x="95.35" y="544.20" font-family="'Liberation Serif', serif" font-size="9" text-anchor="middle" fill="#1a1a1a">Lateral Position</text>
<text transform="translate(17.90,427.60) rotate(-90)" x="0" y="0" font-family="'Liberation Serif', serif" font-size="8.9" text-anchor="middle" fill="#404040" style="stroke:none">Normalized Intensity (AU)</text>
<text x="184.50" y="325.80" font-family="'Liberation Sans', sans-serif" font-style="italic" font-size="10" text-anchor="middle" fill="#1a1a1a">u</text>
<text x="208.00" y="325.80" font-family="'Liberation Sans', sans-serif" font-size="9.6" fill="#1a1a1a">Δp</text>
<text x="222.00" y="325.80" font-family="'Liberation Serif', serif" font-size="8.9" fill="#1a1a1a">(mbar)</text>
<rect x="5.50" y="288.30" width="13.80" height="15.00" fill="none" stroke="#111" stroke-width="1.3"/>
<text x="12.40" y="300.20" font-family="'Liberation Serif', serif" font-size="13" text-anchor="middle" fill="#222">C</text>
<line x1="33.3" y1="306.2" x2="51.2" y2="306.2" stroke="#1b9452" stroke-width="1.3" stroke-dasharray="3,1.8"/>
<line x1="33.3" y1="319.2" x2="51.3" y2="319.2" stroke="#0f8c46" stroke-width="1.8"/>
<text x="59.20" y="309.70" fill="#1a1a1a"><tspan font-family="'Liberation Serif', serif" font-size="9.3">166 kbp, 2.3 </tspan><tspan font-family="'Liberation Sans', sans-serif" font-size="10">μg/mL</tspan></text>
<text x="59.20" y="322.70" fill="#1a1a1a"><tspan font-family="'Liberation Serif', serif" font-size="9.3">166 kbp, 23 </tspan><tspan font-family="'Liberation Sans', sans-serif" font-size="10">μg/mL</tspan></text>
<path d="M284.50,350.02 C304.67,349.96 324.84,349.99 345.01,349.84 C349.34,349.80 353.66,348.73 357.98,348.20 C361.48,347.77 364.98,347.71 368.48,346.92 C370.13,346.56 371.77,343.65 373.42,343.65 C375.07,343.65 376.71,345.65 378.36,345.65 C379.39,345.65 380.42,344.85 381.45,344.38 C382.72,343.79 384.00,342.37 385.28,342.37 C386.14,342.37 387.00,342.45 387.87,342.56 C388.98,342.70 390.09,345.65 391.20,345.65 C392.48,345.65 393.76,343.47 395.03,343.47 C396.10,343.47 397.17,345.38 398.24,346.20 C399.56,347.20 400.88,348.63 402.20,348.93 C404.13,349.36 406.07,349.41 408.00,349.65" fill="none" stroke="#1f9a55" stroke-width="1.3" stroke-linejoin="round"/>
<path d="M284.50,349.84 C296.85,349.78 309.20,349.77 321.55,349.65 C327.73,349.59 333.90,349.36 340.07,348.93 C341.72,348.81 343.37,348.47 345.01,348.20 C347.20,347.83 349.38,347.45 351.56,346.92 C353.70,346.41 355.84,345.48 357.98,344.92 C360.16,344.36 362.35,343.84 364.53,343.47 C366.67,343.10 368.81,342.70 370.95,342.56 C372.27,342.47 373.58,342.37 374.90,342.37 C377.08,342.37 379.27,342.97 381.45,343.47 C383.18,343.86 384.91,344.69 386.63,345.29 C388.82,346.03 391.00,346.88 393.18,347.47 C395.32,348.05 397.46,348.61 399.60,348.93 C402.40,349.34 405.20,349.53 408.00,349.84" fill="none" stroke="#ff3232" stroke-width="1.3" stroke-linejoin="round"/>
<path d="M284.50,346.20 C285.82,345.10 287.13,343.49 288.45,342.92 C290.63,341.97 292.82,341.58 295.00,341.10 C296.31,340.81 297.63,340.37 298.95,340.37 C301.95,340.37 304.96,341.05 307.96,341.65 C310.15,342.08 312.33,342.90 314.51,343.65 C316.69,344.40 318.87,345.26 321.06,346.20 C323.20,347.12 325.34,348.90 327.48,349.29 C329.62,349.68 331.76,350.02 333.90,350.02 C358.60,350.02 383.30,350.02 408.00,350.02" fill="none" stroke="#3558c4" stroke-width="1.3" stroke-linejoin="round"/>
<rect x="284.50" y="332.00" width="123.50" height="18.20" fill="none" stroke="#6e6e6e" stroke-width="1.2"/>
<line x1="315.38" y1="332.00" x2="315.38" y2="334.00" stroke="#333" stroke-width="1"/>
<line x1="315.38" y1="350.20" x2="315.38" y2="348.20" stroke="#333" stroke-width="1"/>
<line x1="346.25" y1="332.00" x2="346.25" y2="334.00" stroke="#333" stroke-width="1"/>
<line x1="346.25" y1="350.20" x2="346.25" y2="348.20" stroke="#333" stroke-width="1"/>
<line x1="377.12" y1="332.00" x2="377.12" y2="334.00" stroke="#333" stroke-width="1"/>
<line x1="377.12" y1="350.20" x2="377.12" y2="348.20" stroke="#333" stroke-width="1"/>
<line x1="284.50" y1="332.00" x2="286.50" y2="332.00" stroke="#333" stroke-width="1.2"/>
<line x1="284.50" y1="350.20" x2="286.50" y2="350.20" stroke="#333" stroke-width="1.2"/>
<line x1="408.00" y1="332.00" x2="406.00" y2="332.00" stroke="#333" stroke-width="1.2"/>
<line x1="408.00" y1="350.20" x2="406.00" y2="350.20" stroke="#333" stroke-width="1.2"/>
<text x="282.20" y="335.40" font-family="'Liberation Serif', serif" font-size="8" text-anchor="end" fill="#1a1a1a">1</text>
<text x="282.90" y="353.20" font-family="'Liberation Serif', serif" font-size="8" text-anchor="end" fill="#1a1a1a">0</text>
<text x="453.00" y="344.70" text-anchor="end" font-family="'Liberation Sans', sans-serif" font-size="10" fill="#1a1a1a">μm/s</text>
<text transform="translate(428.82,344.70) scale(1,1.1)" text-anchor="end" font-family="'Liberation Serif', serif" font-size="9.2" fill="#1a1a1a">57</text>
<text transform="translate(468.80,344.70) scale(1,1.1)" font-family="'Liberation Serif', serif" font-size="9.2" fill="#1a1a1a">10</text>
<path d="M284.50,374.87 C296.85,374.81 309.20,374.82 321.55,374.69 C325.67,374.64 329.78,374.24 333.90,373.78 C336.08,373.53 338.26,372.82 340.45,372.50 C341.97,372.28 343.49,372.20 345.01,371.96 C346.74,371.68 348.47,371.04 350.20,370.68 C351.93,370.33 353.66,369.77 355.39,369.77 C357.12,369.77 358.85,370.68 360.58,370.68 C362.10,370.68 363.62,368.32 365.15,368.32 C366.46,368.32 367.78,369.95 369.10,369.95 C370.58,369.95 372.06,367.41 373.54,367.41 C375.31,367.41 377.08,370.56 378.85,370.68 C380.58,370.80 382.31,370.75 384.04,370.86 C385.32,370.95 386.59,371.45 387.87,371.96 C389.19,372.48 390.50,374.29 391.82,374.50 C393.10,374.71 394.37,374.87 395.65,374.87 C399.77,374.87 403.88,374.87 408.00,374.87" fill="none" stroke="#1f9a55" stroke-width="1.3" stroke-linejoin="round"/>
<path d="M284.50,374.87 C294.79,374.87 305.08,374.87 315.38,374.87 C317.27,374.87 319.16,374.43 321.06,374.14 C323.20,373.81 325.34,373.34 327.48,372.87 C329.62,372.39 331.76,371.82 333.90,371.23 C336.08,370.62 338.26,369.86 340.45,369.23 C341.97,368.78 343.49,367.95 345.01,367.95 C347.20,367.95 349.38,367.95 351.56,367.95 C353.70,367.95 355.84,368.33 357.98,368.68 C360.16,369.04 362.35,370.04 364.53,370.68 C366.67,371.31 368.81,372.01 370.95,372.50 C373.13,373.01 375.31,373.47 377.50,373.78 C379.68,374.08 381.86,374.39 384.04,374.50 C387.91,374.70 391.78,374.87 395.65,374.87 C399.77,374.87 403.88,374.87 408.00,374.87" fill="none" stroke="#ff3232" stroke-width="1.3" stroke-linejoin="round"/>
<path d="M284.50,373.23 C285.82,372.38 287.13,371.43 288.45,370.68 C290.63,369.44 292.82,368.02 295.00,367.41 C297.18,366.79 299.36,366.48 301.54,366.13 C302.41,365.99 303.27,365.77 304.14,365.77 C306.73,365.77 309.32,366.63 311.92,367.41 C314.10,368.06 316.28,369.68 318.46,370.68 C320.60,371.67 322.74,372.83 324.88,373.41 C326.65,373.90 328.42,374.39 330.19,374.50 C333.49,374.73 336.78,374.87 340.07,374.87 C362.72,374.87 385.36,374.87 408.00,374.87" fill="none" stroke="#3558c4" stroke-width="1.3" stroke-linejoin="round"/>
<rect x="284.50" y="356.85" width="123.50" height="18.20" fill="none" stroke="#6e6e6e" stroke-width="1.2"/>
<line x1="315.38" y1="356.85" x2="315.38" y2="358.85" stroke="#333" stroke-width="1"/>
<line x1="315.38" y1="375.05" x2="315.38" y2="373.05" stroke="#333" stroke-width="1"/>
<line x1="346.25" y1="356.85" x2="346.25" y2="358.85" stroke="#333" stroke-width="1"/>
<line x1="346.25" y1="375.05" x2="346.25" y2="373.05" stroke="#333" stroke-width="1"/>
<line x1="377.12" y1="356.85" x2="377.12" y2="358.85" stroke="#333" stroke-width="1"/>
<line x1="377.12" y1="375.05" x2="377.12" y2="373.05" stroke="#333" stroke-width="1"/>
<line x1="284.50" y1="356.85" x2="286.50" y2="356.85" stroke="#333" stroke-width="1.2"/>
<line x1="284.50" y1="375.05" x2="286.50" y2="375.05" stroke="#333" stroke-width="1.2"/>
<line x1="408.00" y1="356.85" x2="406.00" y2="356.85" stroke="#333" stroke-width="1.2"/>
<line x1="408.00" y1="375.05" x2="406.00" y2="375.05" stroke="#333" stroke-width="1.2"/>
<text x="282.20" y="360.25" font-family="'Liberation Serif', serif" font-size="8" text-anchor="end" fill="#1a1a1a">1</text>
<text x="282.90" y="378.05" font-family="'Liberation Serif', serif" font-size="8" text-anchor="end" fill="#1a1a1a">0</text>
<text x="453.00" y="369.55" text-anchor="end" font-family="'Liberation Sans', sans-serif" font-size="10" fill="#1a1a1a">μm/s</text>
<text transform="translate(428.82,369.55) scale(1,1.1)" text-anchor="end" font-family="'Liberation Serif', serif" font-size="9.2" fill="#1a1a1a">120</text>
<text transform="translate(468.80,369.55) scale(1,1.1)" font-family="'Liberation Serif', serif" font-size="9.2" fill="#1a1a1a">20</text>
<path d="M284.50,399.72 C292.73,399.54 300.97,399.48 309.20,399.17 C313.32,399.02 317.43,398.08 321.55,398.08 C325.67,398.08 329.78,398.26 333.90,398.26 C336.08,398.26 338.26,398.01 340.45,397.72 C341.97,397.51 343.49,396.98 345.01,396.26 C346.29,395.66 347.57,393.64 348.84,392.98 C350.16,392.30 351.48,391.53 352.80,391.53 C354.11,391.53 355.43,392.52 356.75,392.98 C358.02,393.43 359.30,394.13 360.58,394.26 C362.76,394.48 364.94,394.41 367.12,394.62 C368.40,394.74 369.67,395.13 370.95,395.53 C372.27,395.94 373.58,397.01 374.90,397.35 C376.63,397.80 378.36,397.92 380.09,398.26 C381.41,398.53 382.72,398.98 384.04,399.17 C385.85,399.43 387.66,399.72 389.48,399.72 C395.65,399.72 401.82,399.72 408.00,399.72" fill="none" stroke="#1f9a55" stroke-width="1.3" stroke-linejoin="round"/>
<path d="M284.50,399.54 C288.00,399.54 291.50,399.54 295.00,399.54 C297.18,399.54 299.36,399.00 301.54,398.81 C304.10,398.58 306.65,398.51 309.20,398.26 C311.83,398.00 314.47,397.38 317.10,396.99 C319.70,396.60 322.29,396.20 324.88,395.90 C327.89,395.54 330.89,395.20 333.90,394.99 C336.08,394.83 338.26,394.83 340.45,394.62 C341.97,394.47 343.49,393.58 345.01,393.35 C346.13,393.18 347.24,392.98 348.35,392.98 C349.83,392.98 351.31,395.02 352.80,395.53 C354.52,396.13 356.25,396.65 357.98,396.81 C360.16,397.01 362.35,397.08 364.53,397.17 C366.26,397.24 367.99,397.22 369.71,397.35 C370.58,397.42 371.44,398.81 372.31,398.99 C373.91,399.32 375.52,399.51 377.12,399.54 C387.42,399.68 397.71,399.66 408.00,399.72" fill="none" stroke="#ff3232" stroke-width="1.3" stroke-linejoin="round"/>
<path d="M284.50,399.54 C285.82,398.44 287.13,397.18 288.45,396.26 C290.63,394.74 292.82,393.36 295.00,392.44 C297.18,391.51 299.36,390.80 301.54,390.25 C302.41,390.04 303.27,389.71 304.14,389.71 C306.28,389.71 308.42,389.95 310.56,390.25 C312.74,390.56 314.92,391.86 317.10,392.98 C318.42,393.66 319.74,394.64 321.06,395.53 C322.33,396.40 323.61,397.79 324.88,398.26 C326.65,398.92 328.42,399.52 330.19,399.54 C356.13,399.70 382.06,399.66 408.00,399.72" fill="none" stroke="#3558c4" stroke-width="1.3" stroke-linejoin="round"/>
<rect x="284.50" y="381.70" width="123.50" height="18.20" fill="none" stroke="#6e6e6e" stroke-width="1.2"/>
<line x1="315.38" y1="381.70" x2="315.38" y2="383.70" stroke="#333" stroke-width="1"/>
<line x1="315.38" y1="399.90" x2="315.38" y2="397.90" stroke="#333" stroke-width="1"/>
<line x1="346.25" y1="381.70" x2="346.25" y2="383.70" stroke="#333" stroke-width="1"/>
<line x1="346.25" y1="399.90" x2="346.25" y2="397.90" stroke="#333" stroke-width="1"/>
<line x1="377.12" y1="381.70" x2="377.12" y2="383.70" stroke="#333" stroke-width="1"/>
<line x1="377.12" y1="399.90" x2="377.12" y2="397.90" stroke="#333" stroke-width="1"/>
<line x1="284.50" y1="381.70" x2="286.50" y2="381.70" stroke="#333" stroke-width="1.2"/>
<line x1="284.50" y1="399.90" x2="286.50" y2="399.90" stroke="#333" stroke-width="1.2"/>
<line x1="408.00" y1="381.70" x2="406.00" y2="381.70" stroke="#333" stroke-width="1.2"/>
<line x1="408.00" y1="399.90" x2="406.00" y2="399.90" stroke="#333" stroke-width="1.2"/>
<text x="282.20" y="385.10" font-family="'Liberation Serif', serif" font-size="8" text-anchor="end" fill="#1a1a1a">1</text>
<text x="282.90" y="402.90" font-family="'Liberation Serif', serif" font-size="8" text-anchor="end" fill="#1a1a1a">0</text>
<text x="453.00" y="394.40" text-anchor="end" font-family="'Liberation Sans', sans-serif" font-size="10" fill="#1a1a1a">μm/s</text>
<text transform="translate(428.82,394.40) scale(1,1.1)" text-anchor="end" font-family="'Liberation Serif', serif" font-size="9.2" fill="#1a1a1a">220</text>
<text transform="translate(468.80,394.40) scale(1,1.1)" font-family="'Liberation Serif', serif" font-size="9.2" fill="#1a1a1a">50</text>
<path d="M284.50,423.11 C285.82,423.05 287.13,422.93 288.45,422.93 C290.63,422.93 292.82,423.11 295.00,423.11 C299.73,423.11 304.47,422.93 309.20,422.93 C312.78,422.93 316.36,423.11 319.94,423.11 C323.28,423.11 326.61,423.04 329.95,422.93 C331.64,422.87 333.32,422.65 335.01,422.38 C336.66,422.12 338.30,421.44 339.95,420.93 C341.64,420.41 343.33,419.75 345.01,419.29 C347.36,418.65 349.71,417.65 352.05,417.65 C353.04,417.65 354.03,419.27 355.02,419.65 C356.67,420.29 358.31,420.62 359.96,420.93 C361.65,421.24 363.33,421.41 365.02,421.66 C366.67,421.90 368.32,422.15 369.96,422.38 C373.58,422.90 377.21,423.53 380.83,423.84 C383.71,424.08 386.59,424.33 389.48,424.39 C395.65,424.50 401.82,424.51 408.00,424.57" fill="none" stroke="#1f9a55" stroke-width="1.3" stroke-linejoin="round"/>
<path d="M284.50,424.39 C288.00,424.26 291.50,424.23 295.00,424.02 C297.18,423.89 299.36,423.37 301.54,423.11 C304.55,422.76 307.55,422.60 310.56,422.20 C313.69,421.79 316.82,421.08 319.94,420.38 C321.63,420.01 323.32,419.51 325.01,419.11 C326.65,418.72 328.30,418.20 329.95,418.02 C331.64,417.83 333.32,417.65 335.01,417.65 C336.66,417.65 338.30,418.05 339.95,418.38 C341.64,418.72 343.33,419.37 345.01,420.02 C346.66,420.65 348.31,421.84 349.95,422.38 C351.64,422.94 353.33,423.49 355.02,423.66 C358.27,423.98 361.52,424.17 364.77,424.20 C379.18,424.34 393.59,424.33 408.00,424.39" fill="none" stroke="#ff3232" stroke-width="1.3" stroke-linejoin="round"/>
<path d="M284.50,422.57 C285.82,421.05 287.13,419.10 288.45,418.02 C290.63,416.23 292.82,415.28 295.00,414.01 C295.86,413.51 296.73,412.56 297.59,412.56 C299.77,412.56 301.95,413.26 304.14,413.83 C306.28,414.39 308.42,415.39 310.56,416.38 C312.74,417.39 314.92,418.71 317.10,420.02 C318.42,420.81 319.74,421.99 321.06,422.57 C322.33,423.13 323.61,423.59 324.88,423.84 C326.65,424.19 328.42,424.57 330.19,424.57 C356.13,424.57 382.06,424.57 408.00,424.57" fill="none" stroke="#3558c4" stroke-width="1.3" stroke-linejoin="round"/>
<rect x="284.50" y="406.55" width="123.50" height="18.20" fill="none" stroke="#6e6e6e" stroke-width="1.2"/>
<line x1="315.38" y1="406.55" x2="315.38" y2="408.55" stroke="#333" stroke-width="1"/>
<line x1="315.38" y1="424.75" x2="315.38" y2="422.75" stroke="#333" stroke-width="1"/>
<line x1="346.25" y1="406.55" x2="346.25" y2="408.55" stroke="#333" stroke-width="1"/>
<line x1="346.25" y1="424.75" x2="346.25" y2="422.75" stroke="#333" stroke-width="1"/>
<line x1="377.12" y1="406.55" x2="377.12" y2="408.55" stroke="#333" stroke-width="1"/>
<line x1="377.12" y1="424.75" x2="377.12" y2="422.75" stroke="#333" stroke-width="1"/>
<line x1="284.50" y1="406.55" x2="286.50" y2="406.55" stroke="#333" stroke-width="1.2"/>
<line x1="284.50" y1="424.75" x2="286.50" y2="424.75" stroke="#333" stroke-width="1.2"/>
<line x1="408.00" y1="406.55" x2="406.00" y2="406.55" stroke="#333" stroke-width="1.2"/>
<line x1="408.00" y1="424.75" x2="406.00" y2="424.75" stroke="#333" stroke-width="1.2"/>
<text x="282.20" y="409.95" font-family="'Liberation Serif', serif" font-size="8" text-anchor="end" fill="#1a1a1a">1</text>
<text x="282.90" y="427.75" font-family="'Liberation Serif', serif" font-size="8" text-anchor="end" fill="#1a1a1a">0</text>
<text x="453.00" y="419.25" text-anchor="end" font-family="'Liberation Sans', sans-serif" font-size="10" fill="#1a1a1a">μm/s</text>
<text transform="translate(428.82,419.25) scale(1,1.1)" text-anchor="end" font-family="'Liberation Serif', serif" font-size="9.2" fill="#1a1a1a">920</text>
<text transform="translate(468.80,419.25) scale(1,1.1)" font-family="'Liberation Serif', serif" font-size="9.2" fill="#1a1a1a">100</text>
<path d="M284.50,448.51 C285.20,447.66 285.90,445.96 286.60,445.96 C287.22,445.96 287.83,447.57 288.45,447.78 C289.77,448.23 291.09,448.51 292.40,448.51 C297.59,448.51 302.78,448.01 307.96,447.78 C312.29,447.59 316.61,447.54 320.93,447.23 C323.53,447.05 326.12,446.53 328.71,445.96 C331.27,445.40 333.82,444.10 336.37,443.41 C339.05,442.69 341.72,441.59 344.40,441.59 C346.13,441.59 347.86,442.06 349.58,442.50 C351.35,442.96 353.12,444.24 354.89,445.05 C356.54,445.81 358.19,446.79 359.83,447.23 C362.47,447.94 365.10,448.52 367.74,448.69 C370.87,448.89 374.00,449.05 377.12,449.05 C387.42,449.05 397.71,449.05 408.00,449.05" fill="none" stroke="#1f9a55" stroke-width="1.3" stroke-linejoin="round"/>
<path d="M284.50,449.24 C288.86,448.57 293.23,448.06 297.59,447.23 C301.05,446.58 304.51,445.59 307.96,444.69 C310.56,444.00 313.15,443.04 315.75,442.50 C317.93,442.05 320.11,441.41 322.29,441.41 C324.43,441.41 326.57,441.98 328.71,442.50 C330.44,442.93 332.17,443.91 333.90,444.69 C335.67,445.48 337.44,446.61 339.21,447.23 C340.94,447.85 342.67,448.55 344.40,448.69 C347.07,448.91 349.75,449.05 352.43,449.05 C370.95,449.05 389.48,449.05 408.00,449.05" fill="none" stroke="#ff3232" stroke-width="1.3" stroke-linejoin="round"/>
<path d="M284.50,447.23 C285.36,444.63 286.23,441.01 287.09,439.41 C287.96,437.81 288.82,436.42 289.69,435.95 C291.00,435.24 292.32,434.68 293.64,434.68 C294.96,434.68 296.27,435.46 297.59,436.13 C299.32,437.01 301.05,439.20 302.78,440.68 C304.51,442.17 306.24,443.80 307.96,445.05 C309.69,446.30 311.42,447.61 313.15,448.33 C314.30,448.80 315.46,449.42 316.61,449.42 C347.07,449.42 377.54,449.42 408.00,449.42" fill="none" stroke="#3558c4" stroke-width="1.3" stroke-linejoin="round"/>
<rect x="284.50" y="431.40" width="123.50" height="18.20" fill="none" stroke="#6e6e6e" stroke-width="1.2"/>
<line x1="315.38" y1="431.40" x2="315.38" y2="433.40" stroke="#333" stroke-width="1"/>
<line x1="315.38" y1="449.60" x2="315.38" y2="447.60" stroke="#333" stroke-width="1"/>
<line x1="346.25" y1="431.40" x2="346.25" y2="433.40" stroke="#333" stroke-width="1"/>
<line x1="346.25" y1="449.60" x2="346.25" y2="447.60" stroke="#333" stroke-width="1"/>
<line x1="377.12" y1="431.40" x2="377.12" y2="433.40" stroke="#333" stroke-width="1"/>
<line x1="377.12" y1="449.60" x2="377.12" y2="447.60" stroke="#333" stroke-width="1"/>
<line x1="284.50" y1="431.40" x2="286.50" y2="431.40" stroke="#333" stroke-width="1.2"/>
<line x1="284.50" y1="449.60" x2="286.50" y2="449.60" stroke="#333" stroke-width="1.2"/>
<line x1="408.00" y1="431.40" x2="406.00" y2="431.40" stroke="#333" stroke-width="1.2"/>
<line x1="408.00" y1="449.60" x2="406.00" y2="449.60" stroke="#333" stroke-width="1.2"/>
<text x="282.20" y="434.80" font-family="'Liberation Serif', serif" font-size="8" text-anchor="end" fill="#1a1a1a">1</text>
<text x="282.90" y="452.60" font-family="'Liberation Serif', serif" font-size="8" text-anchor="end" fill="#1a1a1a">0</text>
<text x="453.00" y="444.10" text-anchor="end" font-family="'Liberation Sans', sans-serif" font-size="10" fill="#1a1a1a">mm/s</text>
<text transform="translate(426.25,444.10) scale(1,1.1)" text-anchor="end" font-family="'Liberation Serif', serif" font-size="9.2" fill="#1a1a1a">2.6</text>
<text transform="translate(468.80,444.10) scale(1,1.1)" font-family="'Liberation Serif', serif" font-size="9.2" fill="#1a1a1a">200</text>
<path d="M284.50,465.71 C285.82,467.47 287.13,470.09 288.45,470.99 C289.77,471.89 291.09,472.81 292.40,472.81 C295.86,472.81 299.32,472.39 302.78,472.27 C307.10,472.11 311.42,472.11 315.75,471.90 C319.20,471.73 322.66,470.86 326.12,470.26 C328.71,469.82 331.31,469.15 333.90,468.81 C335.67,468.58 337.44,468.26 339.21,468.26 C340.94,468.26 342.67,469.28 344.40,469.54 C346.13,469.79 347.86,469.80 349.58,470.08 C351.35,470.37 353.12,471.34 354.89,471.90 C356.54,472.42 358.19,473.13 359.83,473.36 C361.89,473.64 363.95,473.90 366.01,473.90 C380.01,473.90 394.00,473.90 408.00,473.90" fill="none" stroke="#1f9a55" stroke-width="1.3" stroke-linejoin="round"/>
<path d="M284.50,473.90 C287.13,472.75 289.77,471.36 292.40,470.45 C295.86,469.25 299.32,468.51 302.78,467.53 C304.92,466.93 307.06,465.71 309.20,465.71 C311.38,465.71 313.56,466.88 315.75,467.53 C318.34,468.31 320.93,469.30 323.53,470.08 C326.12,470.87 328.71,471.73 331.31,472.27 C333.94,472.81 336.58,473.34 339.21,473.54 C341.56,473.72 343.90,473.90 346.25,473.90 C366.83,473.90 387.42,473.90 408.00,473.90" fill="none" stroke="#ff3232" stroke-width="1.3" stroke-linejoin="round"/>
<path d="M284.50,465.71 C285.36,463.95 286.23,461.78 287.09,460.44 C287.96,459.09 288.82,457.16 289.69,457.16 C290.59,457.16 291.50,457.16 292.40,457.16 C293.27,457.16 294.13,458.78 295.00,459.71 C296.31,461.12 297.63,462.84 298.95,464.44 C300.23,465.99 301.50,467.95 302.78,469.17 C304.10,470.44 305.41,471.54 306.73,472.27 C308.01,472.97 309.28,473.74 310.56,473.90 C312.16,474.12 313.77,474.27 315.38,474.27 C346.25,474.27 377.12,474.27 408.00,474.27" fill="none" stroke="#3558c4" stroke-width="1.3" stroke-linejoin="round"/>
<rect x="284.50" y="456.25" width="123.50" height="18.20" fill="none" stroke="#6e6e6e" stroke-width="1.2"/>
<line x1="315.38" y1="456.25" x2="315.38" y2="458.25" stroke="#333" stroke-width="1"/>
<line x1="315.38" y1="474.45" x2="315.38" y2="472.45" stroke="#333" stroke-width="1"/>
<line x1="346.25" y1="456.25" x2="346.25" y2="458.25" stroke="#333" stroke-width="1"/>
<line x1="346.25" y1="474.45" x2="346.25" y2="472.45" stroke="#333" stroke-width="1"/>
<line x1="377.12" y1="456.25" x2="377.12" y2="458.25" stroke="#333" stroke-width="1"/>
<line x1="377.12" y1="474.45" x2="377.12" y2="472.45" stroke="#333" stroke-width="1"/>
<line x1="284.50" y1="456.25" x2="286.50" y2="456.25" stroke="#333" stroke-width="1.2"/>
<line x1="284.50" y1="474.45" x2="286.50" y2="474.45" stroke="#333" stroke-width="1.2"/>
<line x1="408.00" y1="456.25" x2="406.00" y2="456.25" stroke="#333" stroke-width="1.2"/>
<line x1="408.00" y1="474.45" x2="406.00" y2="474.45" stroke="#333" stroke-width="1.2"/>
<text x="282.20" y="459.65" font-family="'Liberation Serif', serif" font-size="8" text-anchor="end" fill="#1a1a1a">1</text>
<text x="282.90" y="477.45" font-family="'Liberation Serif', serif" font-size="8" text-anchor="end" fill="#1a1a1a">0</text>
<text x="453.00" y="468.95" text-anchor="end" font-family="'Liberation Sans', sans-serif" font-size="10" fill="#1a1a1a">mm/s</text>
<text transform="translate(426.25,468.95) scale(1,1.1)" text-anchor="end" font-family="'Liberation Serif', serif" font-size="9.2" fill="#1a1a1a">4.9</text>
<text transform="translate(468.80,468.95) scale(1,1.1)" font-family="'Liberation Serif', serif" font-size="9.2" fill="#1a1a1a">500</text>
<path d="M284.50,488.20 C285.36,490.38 286.23,493.53 287.09,494.75 C287.96,495.97 288.82,497.30 289.69,497.30 C292.32,497.30 294.96,497.30 297.59,497.30 C301.05,497.30 304.51,497.30 307.96,497.30 C310.56,497.30 313.15,496.33 315.75,496.02 C318.34,495.72 320.93,495.61 323.53,495.30 C325.71,495.03 327.89,494.20 330.07,494.20 C332.17,494.20 334.27,495.59 336.37,496.02 C339.05,496.58 341.72,496.86 344.40,497.30 C346.95,497.71 349.50,498.36 352.05,498.57 C354.24,498.75 356.42,498.94 358.60,498.94 C375.07,498.94 391.53,498.94 408.00,498.94" fill="none" stroke="#1f9a55" stroke-width="1.3" stroke-linejoin="round"/>
<path d="M284.50,492.02 C286.23,491.60 287.96,491.05 289.69,490.75 C291.46,490.43 293.23,490.02 295.00,490.02 C296.73,490.02 298.46,490.77 300.18,491.47 C301.91,492.18 303.64,494.28 305.37,495.30 C307.10,496.32 308.83,497.40 310.56,497.84 C312.29,498.29 314.02,498.74 315.75,498.75 C346.50,498.92 377.25,498.88 408.00,498.94" fill="none" stroke="#ff3232" stroke-width="1.3" stroke-linejoin="round"/>
<path d="M284.50,492.02 C285.20,489.41 285.90,485.59 286.60,484.19 C287.22,482.96 287.83,481.65 288.45,481.65 C289.77,481.65 291.09,481.65 292.40,481.65 C293.68,481.65 294.96,484.01 296.23,485.47 C297.55,486.97 298.87,489.09 300.18,490.75 C301.46,492.35 302.74,494.23 304.01,495.30 C305.33,496.40 306.65,497.18 307.96,497.84 C308.83,498.28 309.69,498.93 310.56,498.94 C343.04,499.11 375.52,499.06 408.00,499.12" fill="none" stroke="#3558c4" stroke-width="1.3" stroke-linejoin="round"/>
<rect x="284.50" y="481.10" width="123.50" height="18.20" fill="none" stroke="#6e6e6e" stroke-width="1.2"/>
<line x1="315.38" y1="481.10" x2="315.38" y2="483.10" stroke="#333" stroke-width="1"/>
<line x1="315.38" y1="499.30" x2="315.38" y2="497.30" stroke="#333" stroke-width="1"/>
<line x1="346.25" y1="481.10" x2="346.25" y2="483.10" stroke="#333" stroke-width="1"/>
<line x1="346.25" y1="499.30" x2="346.25" y2="497.30" stroke="#333" stroke-width="1"/>
<line x1="377.12" y1="481.10" x2="377.12" y2="483.10" stroke="#333" stroke-width="1"/>
<line x1="377.12" y1="499.30" x2="377.12" y2="497.30" stroke="#333" stroke-width="1"/>
<line x1="284.50" y1="481.10" x2="286.50" y2="481.10" stroke="#333" stroke-width="1.2"/>
<line x1="284.50" y1="499.30" x2="286.50" y2="499.30" stroke="#333" stroke-width="1.2"/>
<line x1="408.00" y1="481.10" x2="406.00" y2="481.10" stroke="#333" stroke-width="1.2"/>
<line x1="408.00" y1="499.30" x2="406.00" y2="499.30" stroke="#333" stroke-width="1.2"/>
<text x="282.20" y="484.50" font-family="'Liberation Serif', serif" font-size="8" text-anchor="end" fill="#1a1a1a">1</text>
<text x="282.90" y="502.30" font-family="'Liberation Serif', serif" font-size="8" text-anchor="end" fill="#1a1a1a">0</text>
<text x="453.00" y="493.80" text-anchor="end" font-family="'Liberation Sans', sans-serif" font-size="10" fill="#1a1a1a">mm/s</text>
<text transform="translate(426.25,493.80) scale(1,1.1)" text-anchor="end" font-family="'Liberation Serif', serif" font-size="9.2" fill="#1a1a1a">7.4</text>
<text transform="translate(468.80,493.80) scale(1,1.1)" font-family="'Liberation Serif', serif" font-size="9.2" fill="#1a1a1a">1000</text>
<path d="M284.50,510.86 C285.20,513.05 285.90,516.27 286.60,517.42 C287.63,519.10 288.66,520.69 289.69,520.69 C292.32,520.69 294.96,520.69 297.59,520.69 C301.05,520.69 304.51,519.96 307.96,519.96 C310.56,519.96 313.15,519.96 315.75,519.96 C318.34,519.96 320.93,520.38 323.53,520.69 C326.12,521.00 328.71,521.54 331.31,521.97 C333.94,522.39 336.58,522.98 339.21,523.24 C341.80,523.49 344.40,523.79 346.99,523.79 C367.33,523.79 387.66,523.79 408.00,523.79" fill="none" stroke="#1f9a55" stroke-width="1.3" stroke-linejoin="round"/>
<path d="M284.50,512.14 C286.23,512.99 287.96,514.13 289.69,514.69 C292.32,515.53 294.96,515.79 297.59,516.51 C300.18,517.21 302.78,517.99 305.37,519.05 C307.10,519.76 308.83,520.92 310.56,521.78 C311.83,522.42 313.11,523.54 314.39,523.60 C316.77,523.73 319.16,523.79 321.55,523.79 C350.37,523.79 379.18,523.79 408.00,523.79" fill="none" stroke="#ff3232" stroke-width="1.3" stroke-linejoin="round"/>
<path d="M284.50,522.51 C284.95,519.66 285.41,515.43 285.86,513.96 C286.72,511.15 287.59,508.92 288.45,508.68 C289.77,508.32 291.09,508.13 292.40,508.13 C293.68,508.13 294.96,509.66 296.23,510.68 C297.55,511.74 298.87,513.46 300.18,514.69 C301.46,515.87 302.74,516.99 304.01,517.96 C305.33,518.97 306.65,519.80 307.96,520.69 C309.24,521.56 310.52,522.79 311.79,523.24 C312.78,523.59 313.77,523.97 314.76,523.97 C345.84,523.97 376.92,523.97 408.00,523.97" fill="none" stroke="#3558c4" stroke-width="1.3" stroke-linejoin="round"/>
<rect x="284.50" y="505.95" width="123.50" height="18.20" fill="none" stroke="#6e6e6e" stroke-width="1.2"/>
<line x1="315.38" y1="505.95" x2="315.38" y2="507.95" stroke="#333" stroke-width="1"/>
<line x1="315.38" y1="524.15" x2="315.38" y2="522.15" stroke="#333" stroke-width="1"/>
<line x1="346.25" y1="505.95" x2="346.25" y2="507.95" stroke="#333" stroke-width="1"/>
<line x1="346.25" y1="524.15" x2="346.25" y2="522.15" stroke="#333" stroke-width="1"/>
<line x1="377.12" y1="505.95" x2="377.12" y2="507.95" stroke="#333" stroke-width="1"/>
<line x1="377.12" y1="524.15" x2="377.12" y2="522.15" stroke="#333" stroke-width="1"/>
<line x1="284.50" y1="505.95" x2="286.50" y2="505.95" stroke="#333" stroke-width="1.2"/>
<line x1="284.50" y1="524.15" x2="286.50" y2="524.15" stroke="#333" stroke-width="1.2"/>
<line x1="408.00" y1="505.95" x2="406.00" y2="505.95" stroke="#333" stroke-width="1.2"/>
<line x1="408.00" y1="524.15" x2="406.00" y2="524.15" stroke="#333" stroke-width="1.2"/>
<text x="282.20" y="509.35" font-family="'Liberation Serif', serif" font-size="8" text-anchor="end" fill="#1a1a1a">1</text>
<text x="282.90" y="527.15" font-family="'Liberation Serif', serif" font-size="8" text-anchor="end" fill="#1a1a1a">0</text>
<text x="453.00" y="518.65" text-anchor="end" font-family="'Liberation Sans', sans-serif" font-size="10" fill="#1a1a1a">mm/s</text>
<text transform="translate(426.25,518.65) scale(1,1.1)" text-anchor="end" font-family="'Liberation Serif', serif" font-size="9.2" fill="#1a1a1a">17</text>
<text transform="translate(468.80,518.65) scale(1,1.1)" font-family="'Liberation Serif', serif" font-size="9.2" fill="#1a1a1a">2000</text>
<text x="284.50" y="532.90" font-family="'Liberation Serif', serif" font-size="8.8" text-anchor="middle" fill="#1a1a1a">0</text>
<text x="315.38" y="532.90" font-family="'Liberation Serif', serif" font-size="8.8" text-anchor="middle" fill="#1a1a1a">0.25</text>
<text x="346.25" y="532.90" font-family="'Liberation Serif', serif" font-size="8.8" text-anchor="middle" fill="#1a1a1a">0.5</text>
<text x="377.12" y="532.90" font-family="'Liberation Serif', serif" font-size="8.8" text-anchor="middle" fill="#1a1a1a">0.75</text>
<text x="408.00" y="532.90" font-family="'Liberation Serif', serif" font-size="8.8" text-anchor="middle" fill="#1a1a1a">1</text>
<text x="346.25" y="543.40" font-family="'Liberation Serif', serif" font-size="9" text-anchor="middle" fill="#1a1a1a">Lateral Position</text>
<text transform="translate(269.80,428.70) rotate(-90)" x="0" y="0" font-family="'Liberation Serif', serif" font-size="8.9" text-anchor="middle" fill="#404040" style="stroke:none">Normalized Intensity (AU)</text>
<text x="434.50" y="326.80" font-family="'Liberation Sans', sans-serif" font-style="italic" font-size="10" text-anchor="middle" fill="#1a1a1a">u</text>
<text x="458.00" y="326.80" font-family="'Liberation Sans', sans-serif" font-size="9.6" fill="#1a1a1a">Δp</text>
<text x="471.60" y="326.80" font-family="'Liberation Serif', serif" font-size="8.9" fill="#1a1a1a">(mbar)</text>
<rect x="255.30" y="288.30" width="14.00" height="15.00" fill="none" stroke="#111" stroke-width="1.3"/>
<text x="262.30" y="300.20" font-family="'Liberation Serif', serif" font-size="13" text-anchor="middle" fill="#222">D</text>
<text x="339" y="286.3" font-family="'Liberation Serif', serif" font-size="8.4" text-anchor="middle" fill="#1a1a1a">(run separately)</text>
<line x1="284.8" y1="296.6" x2="302.8" y2="296.6" stroke="#1f9a55" stroke-width="1.2"/>
<line x1="284.8" y1="309.8" x2="302.8" y2="309.8" stroke="#ff3232" stroke-width="1.2"/>
<line x1="284.8" y1="323" x2="302.8" y2="323" stroke="#3558c4" stroke-width="1.2"/>
<text x="310.00" y="300.10" fill="#1a1a1a"><tspan font-family="'Liberation Serif', serif" font-size="9.3">166 kbp, 2.3 </tspan><tspan font-family="'Liberation Sans', sans-serif" font-size="10">μg/mL</tspan></text>
<text x="310.00" y="313.30" fill="#1a1a1a"><tspan font-family="'Liberation Serif', serif" font-size="9.3">48.5 kbp, 6 </tspan><tspan font-family="'Liberation Sans', sans-serif" font-size="10">μg/mL</tspan></text>
<text x="310.00" y="326.50" fill="#1a1a1a"><tspan font-family="'Liberation Serif', serif" font-size="9.3">5 kbp, 32.7 </tspan><tspan font-family="'Liberation Sans', sans-serif" font-size="10">μg/mL</tspan></text>
</svg></body></html>
